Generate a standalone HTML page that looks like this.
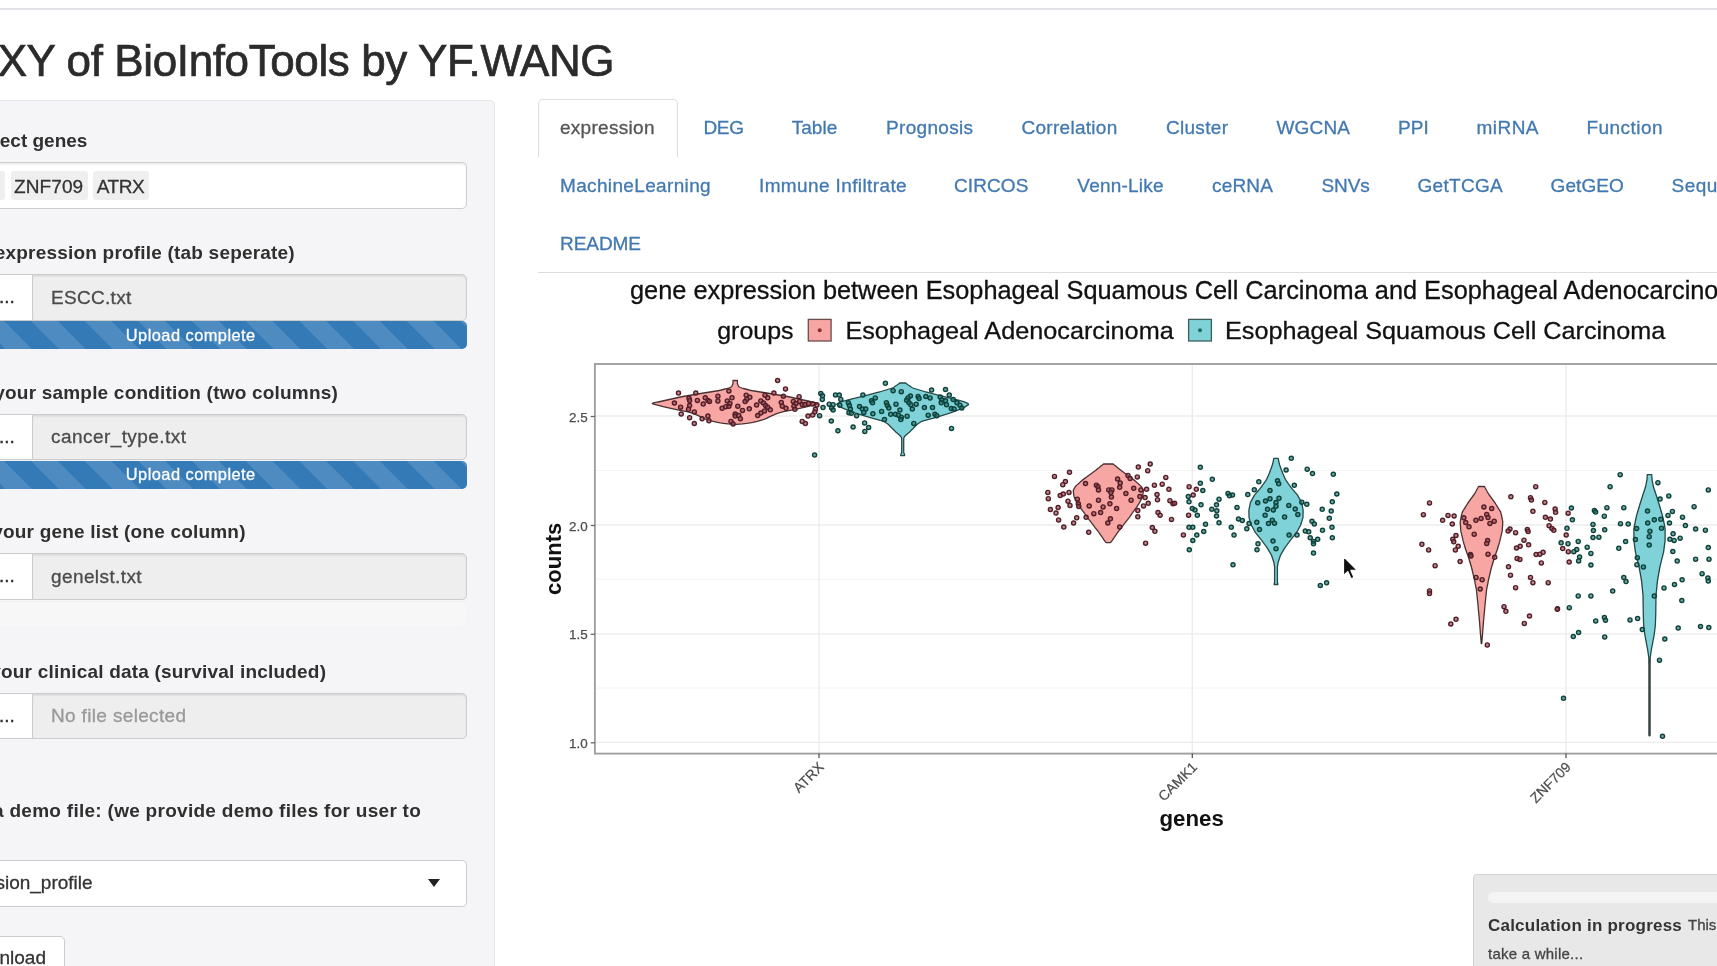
<!DOCTYPE html>
<html><head><meta charset="utf-8"><title>GALAXY of BioInfoTools</title>
<style>
html,body{margin:0;padding:0;background:#fff;}
body{width:1717px;height:966px;overflow:hidden;position:relative;font-family:"Liberation Sans",sans-serif;}
.t{position:absolute;white-space:nowrap;display:block;margin:0;padding:0;font-weight:normal;text-decoration:none;}
.b{position:absolute;}
svg text{font-family:"Liberation Sans",sans-serif;}
#fx{position:absolute;left:-20px;top:-20px;width:1757px;height:1006px;overflow:hidden;filter:blur(0.45px);background:#fff;}
#pg{position:absolute;left:20px;top:20px;width:1717px;height:966px;}
</style></head><body><div id="fx"><div id="pg">
<div class="b" style="left:0.00px;top:7.60px;width:1717.00px;height:2.20px;background:#e3e3e7;"></div>
<h2 class="t" style="right:1102.89px;top:38.80px;font-size:44px;line-height:44px;color:#2b2b2b;letter-spacing:0.000px;-webkit-text-stroke:0.7px #2b2b2b;letter-spacing:-0.386px;">GALAXY of BioInfoTools by YF.WANG</h2>
<div class="b" style="left:-120.00px;top:99.50px;width:614.50px;height:1000.50px;background:#f5f5f7;border:1.4px solid #e3e3e5;border-radius:5px;box-sizing:border-box;"></div>
<label class="t" style="right:1629.60px;top:131.40px;font-size:19px;line-height:19px;font-weight:bold;color:#2f2f2f;letter-spacing:0.000px;">Select genes</label>
<div class="b" style="left:-85.00px;top:162.00px;width:551.80px;height:47.40px;background:#fff;border:1.4px solid #ccc;border-radius:5px;box-sizing:border-box;box-shadow:inset 0 1.4px 1.6px rgba(0,0,0,.08);"></div>
<div class="b" style="left:-75.00px;top:170.70px;width:80.20px;height:29.70px;background:#efefef;border-radius:3px;"></div>
<span class="t" style="right:1716.50px;top:176.50px;font-size:19px;line-height:19px;-webkit-text-stroke:0.3px currentColor;color:#333;letter-spacing:0.000px;">CAMK1</span>
<div class="b" style="left:10.50px;top:170.70px;width:77.50px;height:29.70px;background:#efefef;border-radius:3px;"></div>
<span class="t" style="left:14.00px;top:176.50px;font-size:19px;line-height:19px;-webkit-text-stroke:0.3px currentColor;color:#333;letter-spacing:0.111px;">ZNF709</span>
<div class="b" style="left:93.20px;top:170.70px;width:55.90px;height:29.70px;background:#efefef;border-radius:3px;"></div>
<span class="t" style="left:96.70px;top:176.50px;font-size:19px;line-height:19px;-webkit-text-stroke:0.3px currentColor;color:#333;letter-spacing:-0.391px;">ATRX</span>
<label class="t" style="right:1422.10px;top:243.10px;font-size:19px;line-height:19px;font-weight:bold;color:#2f2f2f;letter-spacing:0.000px;letter-spacing:0.2px;">Upload expression profile (tab seperate)</label>
<div class="b" style="left:-85.00px;top:274.00px;width:118.50px;height:46.60px;background:#fff;border:1.4px solid #ccc;border-radius:5px 0 0 5px;box-sizing:border-box;"></div>
<span class="t" style="right:1702.20px;top:287.20px;font-size:19px;line-height:19px;color:#333;letter-spacing:0.000px;-webkit-text-stroke:0.4px #333;">Browse...</span>
<div class="b" style="left:32.20px;top:274.00px;width:434.60px;height:46.60px;background:#eeeeef;border:1.4px solid #ccc;border-radius:0 5px 5px 0;box-sizing:border-box;box-shadow:inset 0 1.4px 1.6px rgba(0,0,0,.09);"></div>
<span class="t" style="left:51.00px;top:287.60px;font-size:19px;line-height:19px;-webkit-text-stroke:0.3px currentColor;color:#4b4b4b;letter-spacing:0.309px;">ESCC.txt</span>
<div class="b" style="left:-85.00px;top:321.00px;width:551.80px;height:27.80px;border-radius:5px;overflow:hidden;background-color:#337ab7;background-image:linear-gradient(45deg,rgba(255,255,255,.125) 25%,transparent 25%,transparent 50%,rgba(255,255,255,.125) 50%,rgba(255,255,255,.125) 75%,transparent 75%,transparent);background-size:53.7px 53.7px;background-position:9px 0;"></div>
<span class="t" style="left:125.80px;top:326.60px;font-size:16.4px;line-height:16.4px;-webkit-text-stroke:0.3px currentColor;color:#fff;letter-spacing:0.455px;">Upload complete</span>
<label class="t" style="right:1379.00px;top:382.90px;font-size:19px;line-height:19px;font-weight:bold;color:#2f2f2f;letter-spacing:0.000px;letter-spacing:0.2px;">Upload your sample condition (two columns)</label>
<div class="b" style="left:-85.00px;top:413.80px;width:118.50px;height:46.60px;background:#fff;border:1.4px solid #ccc;border-radius:5px 0 0 5px;box-sizing:border-box;"></div>
<span class="t" style="right:1702.20px;top:427.00px;font-size:19px;line-height:19px;color:#333;letter-spacing:0.000px;-webkit-text-stroke:0.4px #333;">Browse...</span>
<div class="b" style="left:32.20px;top:413.80px;width:434.60px;height:46.60px;background:#eeeeef;border:1.4px solid #ccc;border-radius:0 5px 5px 0;box-sizing:border-box;box-shadow:inset 0 1.4px 1.6px rgba(0,0,0,.09);"></div>
<span class="t" style="left:51.00px;top:427.40px;font-size:19px;line-height:19px;-webkit-text-stroke:0.3px currentColor;color:#4b4b4b;letter-spacing:0.437px;">cancer_type.txt</span>
<div class="b" style="left:-85.00px;top:460.80px;width:551.80px;height:27.80px;border-radius:5px;overflow:hidden;background-color:#337ab7;background-image:linear-gradient(45deg,rgba(255,255,255,.125) 25%,transparent 25%,transparent 50%,rgba(255,255,255,.125) 50%,rgba(255,255,255,.125) 75%,transparent 75%,transparent);background-size:53.7px 53.7px;background-position:9px 0;"></div>
<span class="t" style="left:125.80px;top:466.40px;font-size:16.4px;line-height:16.4px;-webkit-text-stroke:0.3px currentColor;color:#fff;letter-spacing:0.455px;">Upload complete</span>
<label class="t" style="right:1471.30px;top:522.30px;font-size:19px;line-height:19px;font-weight:bold;color:#2f2f2f;letter-spacing:0.000px;letter-spacing:0.2px;">Upload your gene list (one column)</label>
<div class="b" style="left:-85.00px;top:553.20px;width:118.50px;height:46.60px;background:#fff;border:1.4px solid #ccc;border-radius:5px 0 0 5px;box-sizing:border-box;"></div>
<span class="t" style="right:1702.20px;top:566.40px;font-size:19px;line-height:19px;color:#333;letter-spacing:0.000px;-webkit-text-stroke:0.4px #333;">Browse...</span>
<div class="b" style="left:32.20px;top:553.20px;width:434.60px;height:46.60px;background:#eeeeef;border:1.4px solid #ccc;border-radius:0 5px 5px 0;box-sizing:border-box;box-shadow:inset 0 1.4px 1.6px rgba(0,0,0,.09);"></div>
<span class="t" style="left:51.00px;top:566.80px;font-size:19px;line-height:19px;-webkit-text-stroke:0.3px currentColor;color:#4b4b4b;letter-spacing:0.400px;">genelst.txt</span>
<div class="b" style="left:-85.00px;top:600.70px;width:551.80px;height:25.50px;background:#f7f7f8;border-radius:5px;box-shadow:inset 0 1px 2px rgba(0,0,0,.04);"></div>
<label class="t" style="right:1390.80px;top:661.90px;font-size:19px;line-height:19px;font-weight:bold;color:#2f2f2f;letter-spacing:0.000px;letter-spacing:0.2px;">Upload your clinical data (survival included)</label>
<div class="b" style="left:-85.00px;top:692.80px;width:118.50px;height:46.60px;background:#fff;border:1.4px solid #ccc;border-radius:5px 0 0 5px;box-sizing:border-box;"></div>
<span class="t" style="right:1702.20px;top:706.00px;font-size:19px;line-height:19px;color:#333;letter-spacing:0.000px;-webkit-text-stroke:0.4px #333;">Browse...</span>
<div class="b" style="left:32.20px;top:692.80px;width:434.60px;height:46.60px;background:#eeeeef;border:1.4px solid #ccc;border-radius:0 5px 5px 0;box-sizing:border-box;box-shadow:inset 0 1.4px 1.6px rgba(0,0,0,.09);"></div>
<span class="t" style="left:51.00px;top:706.40px;font-size:19px;line-height:19px;-webkit-text-stroke:0.3px currentColor;color:#999;letter-spacing:0.344px;">No file selected</span>
<span class="t" style="right:1295.90px;top:800.80px;font-size:19px;line-height:19px;font-weight:bold;color:#2f2f2f;letter-spacing:0.000px;letter-spacing:0.28px;">Choose a demo file: (we provide demo files for user to</span>
<span class="t" style="right:1762.00px;top:827.80px;font-size:19px;line-height:19px;font-weight:bold;color:#2f2f2f;letter-spacing:0.000px;">test)</span>
<div class="b" style="left:-85.00px;top:859.90px;width:551.80px;height:46.70px;background:#fff;border:1.4px solid #ccc;border-radius:5px;box-sizing:border-box;"></div>
<span class="t" style="right:1624.40px;top:873.40px;font-size:19px;line-height:19px;-webkit-text-stroke:0.3px currentColor;color:#333;letter-spacing:0.000px;">expression_profile</span>
<div class="b" style="left:427.5px;top:878.8px;width:0;height:0;border-left:6.9px solid transparent;border-right:6.9px solid transparent;border-top:8px solid #222;"></div>
<div class="b" style="left:-85.00px;top:936.20px;width:149.80px;height:53.80px;background:#fff;border:1.4px solid #ccc;border-radius:5px;box-sizing:border-box;"></div>
<span class="t" style="right:1671.00px;top:947.80px;font-size:19px;line-height:19px;-webkit-text-stroke:0.3px currentColor;color:#333;letter-spacing:0.000px;">Download</span>
<div class="b" style="left:538.00px;top:271.60px;width:1184.00px;height:1.40px;background:#ddd;"></div>
<div class="b" style="left:537.60px;top:99.30px;width:140.20px;height:57.50px;background:#fff;border:1.4px solid #ddd;border-bottom:none;border-radius:5px 5px 0 0;box-sizing:border-box;"></div>
<a class="t" style="left:559.90px;top:118.30px;font-size:19px;line-height:19px;-webkit-text-stroke:0.3px currentColor;color:#555;letter-spacing:0.301px;">expression</a>
<a class="t" style="left:703.50px;top:118.30px;font-size:19px;line-height:19px;-webkit-text-stroke:0.3px currentColor;color:#4279b1;letter-spacing:-0.358px;">DEG</a>
<a class="t" style="left:791.70px;top:118.30px;font-size:19px;line-height:19px;-webkit-text-stroke:0.3px currentColor;color:#4279b1;letter-spacing:0.055px;">Table</a>
<a class="t" style="left:886.00px;top:118.30px;font-size:19px;line-height:19px;-webkit-text-stroke:0.3px currentColor;color:#4279b1;letter-spacing:0.323px;">Prognosis</a>
<a class="t" style="left:1021.40px;top:118.30px;font-size:19px;line-height:19px;-webkit-text-stroke:0.3px currentColor;color:#4279b1;letter-spacing:0.297px;">Correlation</a>
<a class="t" style="left:1165.90px;top:118.30px;font-size:19px;line-height:19px;-webkit-text-stroke:0.3px currentColor;color:#4279b1;letter-spacing:0.317px;">Cluster</a>
<a class="t" style="left:1276.50px;top:118.30px;font-size:19px;line-height:19px;-webkit-text-stroke:0.3px currentColor;color:#4279b1;letter-spacing:0.154px;">WGCNA</a>
<a class="t" style="left:1398.00px;top:118.30px;font-size:19px;line-height:19px;-webkit-text-stroke:0.3px currentColor;color:#4279b1;letter-spacing:0.125px;">PPI</a>
<a class="t" style="left:1476.50px;top:118.30px;font-size:19px;line-height:19px;-webkit-text-stroke:0.3px currentColor;color:#4279b1;letter-spacing:0.467px;">miRNA</a>
<a class="t" style="left:1586.50px;top:118.30px;font-size:19px;line-height:19px;-webkit-text-stroke:0.3px currentColor;color:#4279b1;letter-spacing:0.453px;">Function</a>
<a class="t" style="left:560.00px;top:176.00px;font-size:19px;line-height:19px;-webkit-text-stroke:0.3px currentColor;color:#4279b1;letter-spacing:0.349px;">MachineLearning</a>
<a class="t" style="left:759.00px;top:176.00px;font-size:19px;line-height:19px;-webkit-text-stroke:0.3px currentColor;color:#4279b1;letter-spacing:0.382px;">Immune Infiltrate</a>
<a class="t" style="left:954.00px;top:176.00px;font-size:19px;line-height:19px;-webkit-text-stroke:0.3px currentColor;color:#4279b1;letter-spacing:0.084px;">CIRCOS</a>
<a class="t" style="left:1077.30px;top:176.00px;font-size:19px;line-height:19px;-webkit-text-stroke:0.3px currentColor;color:#4279b1;letter-spacing:0.221px;">Venn-Like</a>
<a class="t" style="left:1212.00px;top:176.00px;font-size:19px;line-height:19px;-webkit-text-stroke:0.3px currentColor;color:#4279b1;letter-spacing:0.163px;">ceRNA</a>
<a class="t" style="left:1321.50px;top:176.00px;font-size:19px;line-height:19px;-webkit-text-stroke:0.3px currentColor;color:#4279b1;letter-spacing:-0.092px;">SNVs</a>
<a class="t" style="left:1417.50px;top:176.00px;font-size:19px;line-height:19px;-webkit-text-stroke:0.3px currentColor;color:#4279b1;letter-spacing:0.299px;">GetTCGA</a>
<a class="t" style="left:1550.50px;top:176.00px;font-size:19px;line-height:19px;-webkit-text-stroke:0.3px currentColor;color:#4279b1;letter-spacing:0.108px;">GetGEO</a>
<a class="t" style="left:560.00px;top:233.70px;font-size:19px;line-height:19px;-webkit-text-stroke:0.3px currentColor;color:#4279b1;letter-spacing:-0.049px;">README</a>
<a class="t" style="left:1671.50px;top:176.00px;font-size:19px;line-height:19px;color:#4279b1;letter-spacing:0.000px;letter-spacing:0.5px;-webkit-text-stroke:0.3px currentColor;">Sequence</a>
<div class="b" style="left:1472.60px;top:873.80px;width:254.40px;height:126.20px;background:#e8e8e8;border:1.4px solid #d2d2d2;border-radius:4px;box-sizing:border-box;"></div>
<div class="b" style="left:1488.00px;top:891.80px;width:239.00px;height:11.50px;background:#f4f4f4;border-radius:5px;"></div>
<span class="t" style="left:1488.00px;top:917.30px;font-size:17px;line-height:17px;font-weight:bold;color:#333;letter-spacing:0.221px;">Calculation in progress</span>
<span class="t" style="left:1688.00px;top:917.40px;font-size:15px;line-height:15px;-webkit-text-stroke:0.3px currentColor;color:#444;letter-spacing:0.000px;">This may</span>
<span class="t" style="left:1488.00px;top:946.00px;font-size:15px;line-height:15px;-webkit-text-stroke:0.3px currentColor;color:#444;letter-spacing:0.239px;">take a while...</span>
<svg style="position:absolute;left:0;top:0;overflow:visible" width="1717" height="966" viewBox="0 0 1717 966">
<line x1="594.9" x2="1717" y1="416" y2="416" stroke="#ececec" stroke-width="1.3"/>
<line x1="594.9" x2="1717" y1="525" y2="525" stroke="#ececec" stroke-width="1.3"/>
<line x1="594.9" x2="1717" y1="633.8" y2="633.8" stroke="#ececec" stroke-width="1.3"/>
<line x1="594.9" x2="1717" y1="742.3" y2="742.3" stroke="#ececec" stroke-width="1.3"/>
<line x1="594.9" x2="1717" y1="470.5" y2="470.5" stroke="#f3f3f3" stroke-width="0.9"/>
<line x1="594.9" x2="1717" y1="579.4" y2="579.4" stroke="#f3f3f3" stroke-width="0.9"/>
<line x1="594.9" x2="1717" y1="688" y2="688" stroke="#f3f3f3" stroke-width="0.9"/>
<line x1="819" x2="819" y1="364" y2="753.6" stroke="#ebebeb" stroke-width="1.3"/>
<line x1="1192.3" x2="1192.3" y1="364" y2="753.6" stroke="#ebebeb" stroke-width="1.3"/>
<line x1="1566" x2="1566" y1="364" y2="753.6" stroke="#ebebeb" stroke-width="1.3"/>
<path d="M733.0,380.5 L733.0,381.0 L733.0,381.5 L733.0,382.0 L733.0,382.5 L733.0,383.0 L733.0,383.5 L732.8,384.0 L732.6,384.5 L732.4,385.0 L732.2,385.5 L732.0,386.0 L731.7,386.5 L731.1,387.0 L730.0,387.5 L728.5,388.0 L726.8,388.5 L725.0,389.0 L723.2,389.5 L721.3,390.0 L719.1,390.5 L716.2,391.0 L713.1,391.5 L710.1,392.0 L707.0,392.5 L703.9,393.0 L700.8,393.5 L697.8,394.0 L694.8,394.5 L691.9,395.0 L688.9,395.5 L686.0,396.0 L683.1,396.5 L680.5,397.0 L678.2,397.5 L676.0,398.0 L673.8,398.5 L671.5,399.0 L669.3,399.5 L667.1,400.0 L664.9,400.5 L662.6,401.0 L660.4,401.5 L658.1,402.0 L655.9,402.4 L653.7,402.9 L652.4,403.4 L653.0,403.9 L654.7,404.4 L656.6,404.9 L658.4,405.4 L660.3,405.9 L662.2,406.4 L664.2,406.9 L666.4,407.4 L668.6,407.9 L670.8,408.4 L673.1,408.9 L675.3,409.4 L677.7,409.9 L680.3,410.4 L682.9,410.9 L685.6,411.4 L687.9,411.9 L689.7,412.4 L691.3,412.9 L692.8,413.4 L694.3,413.9 L695.5,414.4 L696.6,414.9 L697.7,415.4 L698.8,415.9 L699.9,416.4 L701.0,416.9 L702.0,417.4 L703.0,417.9 L704.0,418.4 L705.1,418.9 L706.3,419.4 L707.9,419.9 L709.7,420.4 L711.4,420.9 L713.3,421.4 L715.4,421.9 L717.6,422.4 L720.2,422.9 L723.7,423.4 L727.9,423.9 L734.4,424.4 L736.0,424.4 L742.5,423.9 L746.7,423.4 L750.2,422.9 L752.8,422.4 L755.0,421.9 L757.1,421.4 L759.0,420.9 L760.7,420.4 L762.5,419.9 L764.1,419.4 L765.3,418.9 L766.4,418.4 L767.4,417.9 L768.4,417.4 L769.4,416.9 L770.5,416.4 L771.6,415.9 L772.7,415.4 L773.8,414.9 L774.9,414.4 L776.1,413.9 L777.6,413.4 L779.1,412.9 L780.7,412.4 L782.5,411.9 L784.8,411.4 L787.5,410.9 L790.1,410.4 L792.7,409.9 L795.1,409.4 L797.3,408.9 L799.6,408.4 L801.8,407.9 L804.0,407.4 L806.2,406.9 L808.2,406.4 L810.1,405.9 L812.0,405.4 L813.8,404.9 L815.7,404.4 L817.4,403.9 L818.0,403.4 L816.7,402.9 L814.5,402.4 L812.3,402.0 L810.0,401.5 L807.8,401.0 L805.5,400.5 L803.3,400.0 L801.1,399.5 L798.9,399.0 L796.6,398.5 L794.4,398.0 L792.2,397.5 L789.9,397.0 L787.3,396.5 L784.4,396.0 L781.5,395.5 L778.5,395.0 L775.6,394.5 L772.6,394.0 L769.6,393.5 L766.5,393.0 L763.4,392.5 L760.3,392.0 L757.3,391.5 L754.2,391.0 L751.3,390.5 L749.1,390.0 L747.2,389.5 L745.4,389.0 L743.6,388.5 L741.9,388.0 L740.4,387.5 L739.3,387.0 L738.7,386.5 L738.4,386.0 L738.2,385.5 L738.0,385.0 L737.8,384.5 L737.6,384.0 L737.4,383.5 L737.4,383.0 L737.4,382.5 L737.4,382.0 L737.4,381.5 L737.4,381.0 L737.4,380.5Z" fill="#f7a6a3" stroke="#4a3232" stroke-width="1.3" stroke-linejoin="round"/>
<path d="M899.7,383.0 L899.2,383.5 L898.5,384.0 L897.8,384.5 L897.1,385.0 L896.3,385.5 L895.6,386.0 L894.9,386.5 L894.2,387.0 L893.4,387.5 L892.4,388.0 L890.9,388.5 L889.3,389.0 L887.6,389.5 L886.0,390.0 L884.3,390.5 L882.7,391.0 L881.1,391.5 L879.4,392.0 L877.6,392.4 L875.8,392.9 L873.9,393.4 L872.1,393.9 L870.2,394.4 L868.3,394.9 L866.3,395.4 L864.3,395.9 L862.4,396.4 L860.4,396.9 L858.3,397.4 L856.3,397.9 L854.2,398.4 L852.1,398.9 L850.1,399.4 L848.2,399.9 L846.3,400.4 L844.5,400.9 L842.6,401.4 L841.1,401.9 L839.9,402.4 L838.9,402.9 L837.9,403.4 L837.0,403.9 L836.8,404.4 L837.2,404.9 L838.0,405.4 L838.8,405.9 L839.6,406.4 L840.4,406.9 L841.4,407.4 L842.4,407.9 L843.4,408.4 L844.5,408.9 L845.8,409.4 L847.0,409.9 L848.3,410.3 L849.6,410.8 L851.0,411.3 L852.3,411.8 L853.7,412.3 L855.0,412.8 L856.5,413.3 L858.0,413.8 L859.7,414.3 L861.3,414.8 L862.9,415.3 L864.5,415.8 L866.2,416.3 L867.8,416.8 L869.4,417.3 L871.1,417.8 L872.8,418.3 L874.7,418.8 L876.6,419.3 L878.4,419.8 L880.3,420.3 L882.1,420.8 L883.4,421.3 L884.3,421.8 L885.1,422.3 L885.9,422.8 L886.7,423.3 L887.4,423.8 L888.1,424.3 L888.6,424.8 L889.1,425.3 L889.6,425.8 L890.1,426.3 L890.6,426.8 L891.1,427.3 L891.6,427.8 L892.1,428.3 L892.6,428.7 L893.1,429.2 L893.6,429.7 L894.1,430.2 L894.6,430.7 L895.0,431.2 L895.6,431.7 L896.1,432.2 L896.7,432.7 L897.3,433.2 L897.9,433.7 L898.4,434.2 L899.0,434.7 L899.6,435.2 L900.1,435.7 L900.5,436.2 L900.8,436.7 L901.1,437.2 L901.4,437.7 L901.6,438.2 L901.7,438.7 L901.7,439.2 L901.7,439.7 L901.7,440.2 L901.7,440.7 L901.7,441.2 L901.7,441.7 L901.7,442.2 L901.7,442.7 L901.7,443.2 L901.7,443.7 L901.7,444.2 L901.7,444.7 L901.7,445.2 L901.7,445.7 L901.7,446.2 L901.7,446.6 L901.7,447.1 L901.7,447.6 L901.7,448.1 L901.7,448.6 L901.7,449.1 L901.7,449.6 L901.7,450.1 L901.7,450.6 L901.7,451.1 L901.7,451.6 L901.7,452.1 L901.6,452.6 L901.5,453.1 L901.2,453.6 L901.0,454.1 L900.9,454.6 L900.8,455.1 L900.7,455.6 L904.7,455.6 L904.6,455.1 L904.5,454.6 L904.4,454.1 L904.2,453.6 L903.9,453.1 L903.8,452.6 L903.7,452.1 L903.7,451.6 L903.7,451.1 L903.7,450.6 L903.7,450.1 L903.7,449.6 L903.7,449.1 L903.7,448.6 L903.7,448.1 L903.7,447.6 L903.7,447.1 L903.7,446.6 L903.7,446.2 L903.7,445.7 L903.7,445.2 L903.7,444.7 L903.7,444.2 L903.7,443.7 L903.7,443.2 L903.7,442.7 L903.7,442.2 L903.7,441.7 L903.7,441.2 L903.7,440.7 L903.7,440.2 L903.7,439.7 L903.7,439.2 L903.7,438.7 L903.8,438.2 L904.0,437.7 L904.3,437.2 L904.6,436.7 L904.9,436.2 L905.3,435.7 L905.8,435.2 L906.4,434.7 L907.0,434.2 L907.5,433.7 L908.1,433.2 L908.7,432.7 L909.3,432.2 L909.8,431.7 L910.4,431.2 L910.8,430.7 L911.3,430.2 L911.8,429.7 L912.3,429.2 L912.8,428.7 L913.3,428.3 L913.8,427.8 L914.3,427.3 L914.8,426.8 L915.3,426.3 L915.8,425.8 L916.3,425.3 L916.8,424.8 L917.3,424.3 L918.0,423.8 L918.7,423.3 L919.5,422.8 L920.3,422.3 L921.1,421.8 L922.0,421.3 L923.3,420.8 L925.1,420.3 L927.0,419.8 L928.8,419.3 L930.7,418.8 L932.6,418.3 L934.3,417.8 L936.0,417.3 L937.6,416.8 L939.2,416.3 L940.9,415.8 L942.5,415.3 L944.1,414.8 L945.7,414.3 L947.4,413.8 L948.9,413.3 L950.4,412.8 L951.7,412.3 L953.1,411.8 L954.4,411.3 L955.8,410.8 L957.1,410.3 L958.4,409.9 L959.6,409.4 L960.9,408.9 L962.0,408.4 L963.0,407.9 L964.0,407.4 L965.0,406.9 L965.8,406.4 L966.6,405.9 L967.4,405.4 L968.2,404.9 L968.6,404.4 L968.4,403.9 L967.5,403.4 L966.5,402.9 L965.5,402.4 L964.3,401.9 L962.8,401.4 L960.9,400.9 L959.1,400.4 L957.2,399.9 L955.3,399.4 L953.3,398.9 L951.2,398.4 L949.1,397.9 L947.1,397.4 L945.0,396.9 L943.0,396.4 L941.1,395.9 L939.1,395.4 L937.1,394.9 L935.2,394.4 L933.3,393.9 L931.5,393.4 L929.6,392.9 L927.8,392.4 L926.0,392.0 L924.3,391.5 L922.7,391.0 L921.1,390.5 L919.4,390.0 L917.8,389.5 L916.1,389.0 L914.5,388.5 L913.0,388.0 L912.0,387.5 L911.2,387.0 L910.5,386.5 L909.8,386.0 L909.1,385.5 L908.3,385.0 L907.6,384.5 L906.9,384.0 L906.2,383.5 L905.7,383.0Z" fill="#7fd3d8" stroke="#274848" stroke-width="1.3" stroke-linejoin="round"/>
<path d="M1103.5,464.0 L1102.9,464.5 L1102.3,465.0 L1101.6,465.5 L1101.0,466.0 L1100.4,466.5 L1099.8,467.0 L1099.2,467.5 L1098.6,468.0 L1097.9,468.5 L1097.3,469.0 L1096.7,469.5 L1096.1,470.0 L1095.5,470.5 L1094.8,471.0 L1094.1,471.5 L1093.4,472.0 L1092.8,472.5 L1092.1,473.0 L1091.4,473.5 L1090.7,474.0 L1090.0,474.5 L1089.3,475.0 L1088.6,475.5 L1087.9,476.0 L1087.3,476.5 L1086.6,477.0 L1086.0,477.4 L1085.3,477.9 L1084.7,478.4 L1084.0,478.9 L1083.3,479.4 L1082.7,479.9 L1082.0,480.4 L1081.4,480.9 L1080.8,481.4 L1080.3,481.9 L1079.7,482.4 L1079.2,482.9 L1078.6,483.4 L1078.1,483.9 L1077.5,484.4 L1077.0,484.9 L1076.5,485.4 L1075.9,485.9 L1075.5,486.4 L1075.2,486.9 L1074.9,487.4 L1074.6,487.9 L1074.3,488.4 L1074.1,488.9 L1073.8,489.4 L1073.5,489.9 L1073.3,490.4 L1073.3,490.9 L1073.3,491.4 L1073.4,491.9 L1073.5,492.4 L1073.5,492.9 L1073.6,493.4 L1073.6,493.9 L1073.7,494.4 L1073.8,494.9 L1073.8,495.4 L1073.9,495.9 L1074.0,496.4 L1074.2,496.9 L1074.4,497.4 L1074.7,497.9 L1074.9,498.4 L1075.2,498.9 L1075.4,499.4 L1075.7,499.9 L1076.0,500.4 L1076.2,500.9 L1076.5,501.4 L1076.7,501.9 L1077.0,502.4 L1077.3,502.9 L1077.6,503.4 L1077.9,503.8 L1078.2,504.3 L1078.5,504.8 L1078.8,505.3 L1079.1,505.8 L1079.4,506.3 L1079.7,506.8 L1080.0,507.3 L1080.4,507.8 L1080.8,508.3 L1081.2,508.8 L1081.6,509.3 L1082.0,509.8 L1082.3,510.3 L1082.7,510.8 L1083.1,511.3 L1083.5,511.8 L1083.8,512.3 L1084.2,512.8 L1084.5,513.3 L1084.9,513.8 L1085.2,514.3 L1085.5,514.8 L1085.9,515.3 L1086.2,515.8 L1086.5,516.3 L1086.9,516.8 L1087.2,517.3 L1087.6,517.8 L1088.0,518.3 L1088.4,518.8 L1088.8,519.3 L1089.2,519.8 L1089.6,520.3 L1090.0,520.8 L1090.4,521.3 L1090.8,521.8 L1091.2,522.3 L1091.6,522.8 L1092.0,523.3 L1092.3,523.8 L1092.7,524.3 L1093.1,524.8 L1093.5,525.3 L1093.8,525.8 L1094.2,526.3 L1094.6,526.8 L1094.9,527.3 L1095.3,527.8 L1095.7,528.3 L1096.1,528.8 L1096.4,529.3 L1096.8,529.7 L1097.2,530.2 L1097.6,530.7 L1097.9,531.2 L1098.3,531.7 L1098.7,532.2 L1099.0,532.7 L1099.4,533.2 L1099.7,533.7 L1100.1,534.2 L1100.4,534.7 L1100.8,535.2 L1101.1,535.7 L1101.5,536.2 L1101.8,536.7 L1102.2,537.2 L1102.5,537.7 L1102.8,538.2 L1103.2,538.7 L1103.5,539.2 L1103.8,539.7 L1104.2,540.2 L1104.5,540.7 L1104.9,541.2 L1105.3,541.7 L1105.9,542.2 L1106.5,542.7 L1110.1,542.7 L1110.7,542.2 L1111.3,541.7 L1111.7,541.2 L1112.1,540.7 L1112.4,540.2 L1112.8,539.7 L1113.1,539.2 L1113.4,538.7 L1113.8,538.2 L1114.1,537.7 L1114.4,537.2 L1114.8,536.7 L1115.1,536.2 L1115.5,535.7 L1115.8,535.2 L1116.2,534.7 L1116.5,534.2 L1116.9,533.7 L1117.2,533.2 L1117.6,532.7 L1117.9,532.2 L1118.3,531.7 L1118.7,531.2 L1119.0,530.7 L1119.4,530.2 L1119.8,529.7 L1120.2,529.3 L1120.5,528.8 L1120.9,528.3 L1121.3,527.8 L1121.7,527.3 L1122.0,526.8 L1122.4,526.3 L1122.8,525.8 L1123.1,525.3 L1123.5,524.8 L1123.9,524.3 L1124.3,523.8 L1124.6,523.3 L1125.0,522.8 L1125.4,522.3 L1125.8,521.8 L1126.2,521.3 L1126.6,520.8 L1127.0,520.3 L1127.4,519.8 L1127.8,519.3 L1128.2,518.8 L1128.6,518.3 L1129.0,517.8 L1129.4,517.3 L1129.7,516.8 L1130.1,516.3 L1130.4,515.8 L1130.7,515.3 L1131.1,514.8 L1131.4,514.3 L1131.7,513.8 L1132.1,513.3 L1132.4,512.8 L1132.8,512.3 L1133.1,511.8 L1133.5,511.3 L1133.9,510.8 L1134.3,510.3 L1134.6,509.8 L1135.0,509.3 L1135.4,508.8 L1135.8,508.3 L1136.2,507.8 L1136.6,507.3 L1136.9,506.8 L1137.2,506.3 L1137.5,505.8 L1137.8,505.3 L1138.1,504.8 L1138.4,504.3 L1138.7,503.8 L1139.0,503.4 L1139.3,502.9 L1139.6,502.4 L1139.9,501.9 L1140.1,501.4 L1140.4,500.9 L1140.6,500.4 L1140.9,499.9 L1141.2,499.4 L1141.4,498.9 L1141.7,498.4 L1141.9,497.9 L1142.2,497.4 L1142.4,496.9 L1142.6,496.4 L1142.7,495.9 L1142.8,495.4 L1142.8,494.9 L1142.9,494.4 L1143.0,493.9 L1143.0,493.4 L1143.1,492.9 L1143.1,492.4 L1143.2,491.9 L1143.3,491.4 L1143.3,490.9 L1143.3,490.4 L1143.1,489.9 L1142.8,489.4 L1142.5,488.9 L1142.3,488.4 L1142.0,487.9 L1141.7,487.4 L1141.4,486.9 L1141.1,486.4 L1140.7,485.9 L1140.1,485.4 L1139.6,484.9 L1139.1,484.4 L1138.5,483.9 L1138.0,483.4 L1137.4,482.9 L1136.9,482.4 L1136.3,481.9 L1135.8,481.4 L1135.2,480.9 L1134.6,480.4 L1133.9,479.9 L1133.3,479.4 L1132.6,478.9 L1131.9,478.4 L1131.3,477.9 L1130.6,477.4 L1130.0,477.0 L1129.3,476.5 L1128.7,476.0 L1128.0,475.5 L1127.3,475.0 L1126.6,474.5 L1125.9,474.0 L1125.2,473.5 L1124.5,473.0 L1123.8,472.5 L1123.2,472.0 L1122.5,471.5 L1121.8,471.0 L1121.1,470.5 L1120.5,470.0 L1119.9,469.5 L1119.3,469.0 L1118.7,468.5 L1118.0,468.0 L1117.4,467.5 L1116.8,467.0 L1116.2,466.5 L1115.6,466.0 L1115.0,465.5 L1114.3,465.0 L1113.7,464.5 L1113.1,464.0Z" fill="#f7a6a3" stroke="#4a3232" stroke-width="1.3" stroke-linejoin="round"/>
<path d="M1273.8,458.3 L1273.7,458.8 L1273.6,459.3 L1273.5,459.8 L1273.4,460.3 L1273.3,460.8 L1273.2,461.3 L1273.1,461.8 L1273.0,462.3 L1272.9,462.8 L1272.8,463.3 L1272.7,463.8 L1272.5,464.3 L1272.4,464.8 L1272.3,465.3 L1272.1,465.8 L1271.9,466.3 L1271.7,466.8 L1271.5,467.3 L1271.4,467.8 L1271.2,468.3 L1271.0,468.8 L1270.8,469.3 L1270.6,469.8 L1270.4,470.3 L1270.2,470.8 L1270.1,471.3 L1269.9,471.8 L1269.7,472.3 L1269.5,472.8 L1269.3,473.3 L1269.0,473.8 L1268.8,474.3 L1268.6,474.8 L1268.4,475.3 L1268.2,475.8 L1267.9,476.3 L1267.7,476.8 L1267.5,477.3 L1267.3,477.8 L1267.1,478.3 L1266.8,478.8 L1266.6,479.3 L1266.4,479.7 L1266.1,480.2 L1265.8,480.7 L1265.4,481.2 L1265.1,481.7 L1264.7,482.2 L1264.4,482.7 L1264.0,483.2 L1263.7,483.7 L1263.3,484.2 L1263.0,484.7 L1262.6,485.2 L1262.2,485.7 L1261.9,486.2 L1261.5,486.7 L1261.2,487.2 L1260.8,487.7 L1260.4,488.2 L1260.0,488.7 L1259.5,489.2 L1259.1,489.7 L1258.7,490.2 L1258.2,490.7 L1257.8,491.2 L1257.4,491.7 L1257.0,492.2 L1256.5,492.7 L1256.1,493.2 L1255.7,493.7 L1255.3,494.2 L1254.9,494.7 L1254.5,495.2 L1254.2,495.7 L1253.9,496.2 L1253.6,496.7 L1253.4,497.2 L1253.1,497.7 L1252.8,498.2 L1252.5,498.7 L1252.2,499.2 L1252.0,499.7 L1251.7,500.2 L1251.4,500.7 L1251.1,501.2 L1250.8,501.7 L1250.6,502.2 L1250.4,502.7 L1250.3,503.2 L1250.2,503.7 L1250.1,504.2 L1250.0,504.7 L1249.9,505.2 L1249.8,505.7 L1249.7,506.2 L1249.6,506.7 L1249.5,507.2 L1249.4,507.7 L1249.3,508.2 L1249.2,508.7 L1249.1,509.2 L1249.0,509.7 L1248.9,510.2 L1248.9,510.7 L1248.9,511.2 L1248.9,511.7 L1248.9,512.2 L1248.9,512.7 L1248.9,513.2 L1248.9,513.7 L1249.0,514.2 L1249.0,514.7 L1249.0,515.2 L1249.0,515.7 L1249.0,516.2 L1249.0,516.7 L1249.0,517.2 L1249.1,517.7 L1249.2,518.2 L1249.4,518.7 L1249.5,519.2 L1249.7,519.7 L1249.8,520.2 L1250.0,520.7 L1250.1,521.2 L1250.3,521.6 L1250.4,522.1 L1250.6,522.6 L1250.7,523.1 L1250.9,523.6 L1251.0,524.1 L1251.2,524.6 L1251.4,525.1 L1251.6,525.6 L1251.9,526.1 L1252.2,526.6 L1252.5,527.1 L1252.7,527.6 L1253.0,528.1 L1253.3,528.6 L1253.6,529.1 L1253.8,529.6 L1254.1,530.1 L1254.4,530.6 L1254.6,531.1 L1254.9,531.6 L1255.2,532.1 L1255.5,532.6 L1255.9,533.1 L1256.3,533.6 L1256.7,534.1 L1257.1,534.6 L1257.5,535.1 L1257.9,535.6 L1258.3,536.1 L1258.7,536.6 L1259.1,537.1 L1259.5,537.6 L1259.9,538.1 L1260.3,538.6 L1260.7,539.1 L1261.1,539.6 L1261.5,540.1 L1261.9,540.6 L1262.2,541.1 L1262.6,541.6 L1263.0,542.1 L1263.3,542.6 L1263.7,543.1 L1264.1,543.6 L1264.5,544.1 L1264.8,544.6 L1265.2,545.1 L1265.6,545.6 L1265.9,546.1 L1266.3,546.6 L1266.7,547.1 L1267.0,547.6 L1267.3,548.1 L1267.6,548.6 L1267.9,549.1 L1268.2,549.6 L1268.5,550.1 L1268.8,550.6 L1269.1,551.1 L1269.4,551.6 L1269.7,552.1 L1270.0,552.6 L1270.3,553.1 L1270.6,553.6 L1270.9,554.1 L1271.1,554.6 L1271.4,555.1 L1271.6,555.6 L1271.8,556.1 L1271.9,556.6 L1272.1,557.1 L1272.3,557.6 L1272.4,558.1 L1272.6,558.6 L1272.8,559.1 L1272.9,559.6 L1273.1,560.1 L1273.3,560.6 L1273.4,561.1 L1273.6,561.6 L1273.7,562.1 L1273.9,562.6 L1274.0,563.1 L1274.1,563.5 L1274.1,564.0 L1274.2,564.5 L1274.3,565.0 L1274.4,565.5 L1274.5,566.0 L1274.5,566.5 L1274.6,567.0 L1274.6,567.5 L1274.6,568.0 L1274.6,568.5 L1274.6,569.0 L1274.6,569.5 L1274.6,570.0 L1274.6,570.5 L1274.6,571.0 L1274.6,571.5 L1274.6,572.0 L1274.6,572.5 L1274.6,573.0 L1274.6,573.5 L1274.6,574.0 L1274.6,574.5 L1274.6,575.0 L1274.6,575.5 L1274.6,576.0 L1274.6,576.5 L1274.6,577.0 L1274.6,577.5 L1274.6,578.0 L1274.6,578.5 L1274.6,579.0 L1274.6,579.5 L1274.6,580.0 L1274.6,580.5 L1274.6,581.0 L1274.6,581.5 L1274.6,582.0 L1274.5,582.5 L1274.4,583.0 L1274.3,583.5 L1274.2,584.0 L1274.1,584.5 L1277.9,584.5 L1277.8,584.0 L1277.7,583.5 L1277.6,583.0 L1277.5,582.5 L1277.4,582.0 L1277.4,581.5 L1277.4,581.0 L1277.4,580.5 L1277.4,580.0 L1277.4,579.5 L1277.4,579.0 L1277.4,578.5 L1277.4,578.0 L1277.4,577.5 L1277.4,577.0 L1277.4,576.5 L1277.4,576.0 L1277.4,575.5 L1277.4,575.0 L1277.4,574.5 L1277.4,574.0 L1277.4,573.5 L1277.4,573.0 L1277.4,572.5 L1277.4,572.0 L1277.4,571.5 L1277.4,571.0 L1277.4,570.5 L1277.4,570.0 L1277.4,569.5 L1277.4,569.0 L1277.4,568.5 L1277.4,568.0 L1277.4,567.5 L1277.4,567.0 L1277.5,566.5 L1277.5,566.0 L1277.6,565.5 L1277.7,565.0 L1277.8,564.5 L1277.9,564.0 L1277.9,563.5 L1278.0,563.1 L1278.1,562.6 L1278.3,562.1 L1278.4,561.6 L1278.6,561.1 L1278.7,560.6 L1278.9,560.1 L1279.1,559.6 L1279.2,559.1 L1279.4,558.6 L1279.6,558.1 L1279.7,557.6 L1279.9,557.1 L1280.1,556.6 L1280.2,556.1 L1280.4,555.6 L1280.6,555.1 L1280.9,554.6 L1281.1,554.1 L1281.4,553.6 L1281.7,553.1 L1282.0,552.6 L1282.3,552.1 L1282.6,551.6 L1282.9,551.1 L1283.2,550.6 L1283.5,550.1 L1283.8,549.6 L1284.1,549.1 L1284.4,548.6 L1284.7,548.1 L1285.0,547.6 L1285.3,547.1 L1285.7,546.6 L1286.1,546.1 L1286.4,545.6 L1286.8,545.1 L1287.2,544.6 L1287.5,544.1 L1287.9,543.6 L1288.3,543.1 L1288.7,542.6 L1289.0,542.1 L1289.4,541.6 L1289.8,541.1 L1290.1,540.6 L1290.5,540.1 L1290.9,539.6 L1291.3,539.1 L1291.7,538.6 L1292.1,538.1 L1292.5,537.6 L1292.9,537.1 L1293.3,536.6 L1293.7,536.1 L1294.1,535.6 L1294.5,535.1 L1294.9,534.6 L1295.3,534.1 L1295.7,533.6 L1296.1,533.1 L1296.5,532.6 L1296.8,532.1 L1297.1,531.6 L1297.4,531.1 L1297.6,530.6 L1297.9,530.1 L1298.2,529.6 L1298.4,529.1 L1298.7,528.6 L1299.0,528.1 L1299.3,527.6 L1299.5,527.1 L1299.8,526.6 L1300.1,526.1 L1300.4,525.6 L1300.6,525.1 L1300.8,524.6 L1301.0,524.1 L1301.1,523.6 L1301.3,523.1 L1301.4,522.6 L1301.6,522.1 L1301.7,521.6 L1301.9,521.2 L1302.0,520.7 L1302.2,520.2 L1302.3,519.7 L1302.5,519.2 L1302.6,518.7 L1302.8,518.2 L1302.9,517.7 L1303.0,517.2 L1303.0,516.7 L1303.0,516.2 L1303.0,515.7 L1303.0,515.2 L1303.0,514.7 L1303.0,514.2 L1303.1,513.7 L1303.1,513.2 L1303.1,512.7 L1303.1,512.2 L1303.1,511.7 L1303.1,511.2 L1303.1,510.7 L1303.1,510.2 L1303.0,509.7 L1302.9,509.2 L1302.8,508.7 L1302.7,508.2 L1302.6,507.7 L1302.5,507.2 L1302.4,506.7 L1302.3,506.2 L1302.2,505.7 L1302.1,505.2 L1302.0,504.7 L1301.9,504.2 L1301.8,503.7 L1301.7,503.2 L1301.6,502.7 L1301.4,502.2 L1301.2,501.7 L1300.9,501.2 L1300.6,500.7 L1300.3,500.2 L1300.0,499.7 L1299.8,499.2 L1299.5,498.7 L1299.2,498.2 L1298.9,497.7 L1298.6,497.2 L1298.4,496.7 L1298.1,496.2 L1297.8,495.7 L1297.5,495.2 L1297.1,494.7 L1296.7,494.2 L1296.3,493.7 L1295.9,493.2 L1295.5,492.7 L1295.0,492.2 L1294.6,491.7 L1294.2,491.2 L1293.8,490.7 L1293.3,490.2 L1292.9,489.7 L1292.5,489.2 L1292.0,488.7 L1291.6,488.2 L1291.2,487.7 L1290.8,487.2 L1290.5,486.7 L1290.1,486.2 L1289.8,485.7 L1289.4,485.2 L1289.0,484.7 L1288.7,484.2 L1288.3,483.7 L1288.0,483.2 L1287.6,482.7 L1287.3,482.2 L1286.9,481.7 L1286.6,481.2 L1286.2,480.7 L1285.9,480.2 L1285.6,479.7 L1285.4,479.3 L1285.2,478.8 L1284.9,478.3 L1284.7,477.8 L1284.5,477.3 L1284.3,476.8 L1284.1,476.3 L1283.8,475.8 L1283.6,475.3 L1283.4,474.8 L1283.2,474.3 L1283.0,473.8 L1282.7,473.3 L1282.5,472.8 L1282.3,472.3 L1282.1,471.8 L1281.9,471.3 L1281.8,470.8 L1281.6,470.3 L1281.4,469.8 L1281.2,469.3 L1281.0,468.8 L1280.8,468.3 L1280.6,467.8 L1280.5,467.3 L1280.3,466.8 L1280.1,466.3 L1279.9,465.8 L1279.7,465.3 L1279.6,464.8 L1279.5,464.3 L1279.3,463.8 L1279.2,463.3 L1279.1,462.8 L1279.0,462.3 L1278.9,461.8 L1278.8,461.3 L1278.7,460.8 L1278.6,460.3 L1278.5,459.8 L1278.4,459.3 L1278.3,458.8 L1278.2,458.3Z" fill="#7fd3d8" stroke="#274848" stroke-width="1.3" stroke-linejoin="round"/>
<path d="M1478.5,486.5 L1478.2,487.0 L1478.0,487.5 L1477.7,488.0 L1477.4,488.5 L1477.2,489.0 L1476.9,489.5 L1476.6,490.0 L1476.4,490.5 L1476.1,491.0 L1475.8,491.5 L1475.6,492.0 L1475.3,492.5 L1475.0,493.0 L1474.7,493.5 L1474.4,494.0 L1474.1,494.5 L1473.7,495.0 L1473.3,495.5 L1473.0,496.0 L1472.6,496.5 L1472.3,497.0 L1471.9,497.5 L1471.5,498.0 L1471.2,498.5 L1470.8,499.0 L1470.5,499.5 L1470.1,500.0 L1469.7,500.5 L1469.4,501.0 L1469.0,501.5 L1468.7,502.0 L1468.3,502.5 L1467.9,503.0 L1467.6,503.5 L1467.3,504.0 L1467.0,504.5 L1466.7,505.0 L1466.4,505.5 L1466.1,506.0 L1465.8,506.4 L1465.5,506.9 L1465.2,507.4 L1464.9,507.9 L1464.6,508.4 L1464.3,508.9 L1464.0,509.4 L1463.6,509.9 L1463.3,510.4 L1463.0,510.9 L1462.7,511.4 L1462.4,511.9 L1462.2,512.4 L1462.1,512.9 L1462.0,513.4 L1461.8,513.9 L1461.7,514.4 L1461.6,514.9 L1461.5,515.4 L1461.4,515.9 L1461.3,516.4 L1461.2,516.9 L1461.1,517.4 L1461.0,517.9 L1460.9,518.4 L1460.8,518.9 L1460.7,519.4 L1460.6,519.9 L1460.5,520.4 L1460.3,520.9 L1460.3,521.4 L1460.2,521.9 L1460.3,522.4 L1460.3,522.9 L1460.3,523.4 L1460.3,523.9 L1460.4,524.4 L1460.4,524.9 L1460.4,525.4 L1460.5,525.9 L1460.5,526.4 L1460.5,526.9 L1460.6,527.4 L1460.6,527.9 L1460.6,528.4 L1460.7,528.9 L1460.7,529.4 L1460.7,529.9 L1460.8,530.4 L1460.8,530.9 L1460.9,531.4 L1461.0,531.9 L1461.2,532.4 L1461.3,532.9 L1461.4,533.4 L1461.5,533.9 L1461.6,534.4 L1461.7,534.9 L1461.9,535.4 L1462.0,535.9 L1462.1,536.4 L1462.2,536.9 L1462.3,537.4 L1462.4,537.9 L1462.6,538.4 L1462.7,538.9 L1462.8,539.4 L1462.9,539.9 L1463.0,540.4 L1463.2,540.9 L1463.3,541.4 L1463.5,541.9 L1463.6,542.4 L1463.7,542.9 L1463.9,543.4 L1464.0,543.9 L1464.2,544.4 L1464.3,544.9 L1464.4,545.4 L1464.6,545.8 L1464.7,546.3 L1464.9,546.8 L1465.0,547.3 L1465.1,547.8 L1465.3,548.3 L1465.4,548.8 L1465.6,549.3 L1465.7,549.8 L1465.9,550.3 L1466.1,550.8 L1466.3,551.3 L1466.5,551.8 L1466.7,552.3 L1466.8,552.8 L1467.0,553.3 L1467.2,553.8 L1467.4,554.3 L1467.6,554.8 L1467.8,555.3 L1468.0,555.8 L1468.1,556.3 L1468.3,556.8 L1468.5,557.3 L1468.6,557.8 L1468.8,558.3 L1468.9,558.8 L1469.1,559.3 L1469.2,559.8 L1469.4,560.3 L1469.5,560.8 L1469.7,561.3 L1469.8,561.8 L1470.0,562.3 L1470.1,562.8 L1470.3,563.3 L1470.4,563.8 L1470.6,564.3 L1470.7,564.8 L1470.9,565.3 L1471.0,565.8 L1471.2,566.3 L1471.3,566.8 L1471.5,567.3 L1471.6,567.8 L1471.7,568.3 L1471.9,568.8 L1472.0,569.3 L1472.1,569.8 L1472.2,570.3 L1472.3,570.8 L1472.5,571.3 L1472.6,571.8 L1472.7,572.3 L1472.8,572.8 L1472.9,573.3 L1473.1,573.8 L1473.2,574.3 L1473.3,574.8 L1473.4,575.3 L1473.5,575.8 L1473.7,576.3 L1473.8,576.8 L1473.9,577.3 L1474.0,577.8 L1474.2,578.3 L1474.3,578.8 L1474.4,579.3 L1474.5,579.8 L1474.6,580.3 L1474.7,580.8 L1474.8,581.3 L1474.9,581.8 L1475.0,582.3 L1475.0,582.8 L1475.1,583.3 L1475.2,583.8 L1475.3,584.3 L1475.4,584.7 L1475.5,585.2 L1475.6,585.7 L1475.7,586.2 L1475.8,586.7 L1475.9,587.2 L1476.0,587.7 L1476.1,588.2 L1476.2,588.7 L1476.3,589.2 L1476.4,589.7 L1476.4,590.2 L1476.5,590.7 L1476.6,591.2 L1476.6,591.7 L1476.7,592.2 L1476.7,592.7 L1476.8,593.2 L1476.8,593.7 L1476.9,594.2 L1476.9,594.7 L1477.0,595.2 L1477.0,595.7 L1477.1,596.2 L1477.1,596.7 L1477.2,597.2 L1477.2,597.7 L1477.3,598.2 L1477.3,598.7 L1477.4,599.2 L1477.4,599.7 L1477.5,600.2 L1477.5,600.7 L1477.6,601.2 L1477.6,601.7 L1477.7,602.2 L1477.7,602.7 L1477.8,603.2 L1477.8,603.7 L1477.9,604.2 L1477.9,604.7 L1478.0,605.2 L1478.0,605.7 L1478.1,606.2 L1478.1,606.7 L1478.2,607.2 L1478.2,607.7 L1478.3,608.2 L1478.3,608.7 L1478.4,609.2 L1478.4,609.7 L1478.4,610.2 L1478.5,610.7 L1478.5,611.2 L1478.6,611.7 L1478.6,612.2 L1478.7,612.7 L1478.7,613.2 L1478.8,613.7 L1478.8,614.2 L1478.9,614.7 L1478.9,615.2 L1479.0,615.7 L1479.0,616.2 L1479.1,616.7 L1479.1,617.2 L1479.2,617.7 L1479.2,618.2 L1479.2,618.7 L1479.3,619.2 L1479.3,619.7 L1479.4,620.2 L1479.4,620.7 L1479.5,621.2 L1479.5,621.7 L1479.5,622.2 L1479.6,622.7 L1479.6,623.2 L1479.7,623.7 L1479.7,624.1 L1479.7,624.6 L1479.8,625.1 L1479.8,625.6 L1479.8,626.1 L1479.9,626.6 L1479.9,627.1 L1480.0,627.6 L1480.0,628.1 L1480.0,628.6 L1480.1,629.1 L1480.1,629.6 L1480.2,630.1 L1480.2,630.6 L1480.2,631.1 L1480.3,631.6 L1480.3,632.1 L1480.3,632.6 L1480.4,633.1 L1480.4,633.6 L1480.5,634.1 L1480.5,634.6 L1480.6,635.1 L1480.6,635.6 L1480.6,636.1 L1480.7,636.6 L1480.7,637.1 L1480.8,637.6 L1480.8,638.1 L1480.8,638.6 L1480.9,639.1 L1480.9,639.6 L1481.0,640.1 L1481.0,640.6 L1481.0,641.1 L1481.1,641.6 L1481.1,642.1 L1481.2,642.6 L1481.2,643.1 L1481.2,643.6 L1481.8,643.6 L1481.8,643.1 L1481.8,642.6 L1481.9,642.1 L1481.9,641.6 L1482.0,641.1 L1482.0,640.6 L1482.0,640.1 L1482.1,639.6 L1482.1,639.1 L1482.2,638.6 L1482.2,638.1 L1482.2,637.6 L1482.3,637.1 L1482.3,636.6 L1482.4,636.1 L1482.4,635.6 L1482.4,635.1 L1482.5,634.6 L1482.5,634.1 L1482.6,633.6 L1482.6,633.1 L1482.7,632.6 L1482.7,632.1 L1482.7,631.6 L1482.8,631.1 L1482.8,630.6 L1482.8,630.1 L1482.9,629.6 L1482.9,629.1 L1483.0,628.6 L1483.0,628.1 L1483.0,627.6 L1483.1,627.1 L1483.1,626.6 L1483.2,626.1 L1483.2,625.6 L1483.2,625.1 L1483.3,624.6 L1483.3,624.1 L1483.3,623.7 L1483.4,623.2 L1483.4,622.7 L1483.5,622.2 L1483.5,621.7 L1483.5,621.2 L1483.6,620.7 L1483.6,620.2 L1483.7,619.7 L1483.7,619.2 L1483.8,618.7 L1483.8,618.2 L1483.8,617.7 L1483.9,617.2 L1483.9,616.7 L1484.0,616.2 L1484.0,615.7 L1484.1,615.2 L1484.1,614.7 L1484.2,614.2 L1484.2,613.7 L1484.3,613.2 L1484.3,612.7 L1484.4,612.2 L1484.4,611.7 L1484.5,611.2 L1484.5,610.7 L1484.6,610.2 L1484.6,609.7 L1484.6,609.2 L1484.7,608.7 L1484.7,608.2 L1484.8,607.7 L1484.8,607.2 L1484.9,606.7 L1484.9,606.2 L1485.0,605.7 L1485.0,605.2 L1485.1,604.7 L1485.1,604.2 L1485.2,603.7 L1485.2,603.2 L1485.3,602.7 L1485.3,602.2 L1485.4,601.7 L1485.4,601.2 L1485.5,600.7 L1485.5,600.2 L1485.6,599.7 L1485.6,599.2 L1485.7,598.7 L1485.7,598.2 L1485.8,597.7 L1485.8,597.2 L1485.9,596.7 L1485.9,596.2 L1486.0,595.7 L1486.0,595.2 L1486.1,594.7 L1486.1,594.2 L1486.2,593.7 L1486.2,593.2 L1486.3,592.7 L1486.3,592.2 L1486.4,591.7 L1486.4,591.2 L1486.5,590.7 L1486.6,590.2 L1486.6,589.7 L1486.7,589.2 L1486.8,588.7 L1486.9,588.2 L1487.0,587.7 L1487.1,587.2 L1487.2,586.7 L1487.3,586.2 L1487.4,585.7 L1487.5,585.2 L1487.6,584.7 L1487.7,584.3 L1487.8,583.8 L1487.9,583.3 L1488.0,582.8 L1488.0,582.3 L1488.1,581.8 L1488.2,581.3 L1488.3,580.8 L1488.4,580.3 L1488.5,579.8 L1488.6,579.3 L1488.7,578.8 L1488.8,578.3 L1489.0,577.8 L1489.1,577.3 L1489.2,576.8 L1489.3,576.3 L1489.5,575.8 L1489.6,575.3 L1489.7,574.8 L1489.8,574.3 L1489.9,573.8 L1490.1,573.3 L1490.2,572.8 L1490.3,572.3 L1490.4,571.8 L1490.5,571.3 L1490.7,570.8 L1490.8,570.3 L1490.9,569.8 L1491.0,569.3 L1491.1,568.8 L1491.3,568.3 L1491.4,567.8 L1491.5,567.3 L1491.7,566.8 L1491.8,566.3 L1492.0,565.8 L1492.1,565.3 L1492.3,564.8 L1492.4,564.3 L1492.6,563.8 L1492.7,563.3 L1492.9,562.8 L1493.0,562.3 L1493.2,561.8 L1493.3,561.3 L1493.5,560.8 L1493.6,560.3 L1493.8,559.8 L1493.9,559.3 L1494.1,558.8 L1494.2,558.3 L1494.4,557.8 L1494.5,557.3 L1494.7,556.8 L1494.9,556.3 L1495.0,555.8 L1495.2,555.3 L1495.4,554.8 L1495.6,554.3 L1495.8,553.8 L1496.0,553.3 L1496.2,552.8 L1496.3,552.3 L1496.5,551.8 L1496.7,551.3 L1496.9,550.8 L1497.1,550.3 L1497.3,549.8 L1497.4,549.3 L1497.6,548.8 L1497.7,548.3 L1497.9,547.8 L1498.0,547.3 L1498.1,546.8 L1498.3,546.3 L1498.4,545.8 L1498.6,545.4 L1498.7,544.9 L1498.8,544.4 L1499.0,543.9 L1499.1,543.4 L1499.3,542.9 L1499.4,542.4 L1499.5,541.9 L1499.7,541.4 L1499.8,540.9 L1500.0,540.4 L1500.1,539.9 L1500.2,539.4 L1500.3,538.9 L1500.4,538.4 L1500.6,537.9 L1500.7,537.4 L1500.8,536.9 L1500.9,536.4 L1501.0,535.9 L1501.1,535.4 L1501.3,534.9 L1501.4,534.4 L1501.5,533.9 L1501.6,533.4 L1501.7,532.9 L1501.8,532.4 L1502.0,531.9 L1502.1,531.4 L1502.2,530.9 L1502.2,530.4 L1502.3,529.9 L1502.3,529.4 L1502.3,528.9 L1502.4,528.4 L1502.4,527.9 L1502.4,527.4 L1502.5,526.9 L1502.5,526.4 L1502.5,525.9 L1502.6,525.4 L1502.6,524.9 L1502.6,524.4 L1502.7,523.9 L1502.7,523.4 L1502.7,522.9 L1502.7,522.4 L1502.8,521.9 L1502.7,521.4 L1502.7,520.9 L1502.5,520.4 L1502.4,519.9 L1502.3,519.4 L1502.2,518.9 L1502.1,518.4 L1502.0,517.9 L1501.9,517.4 L1501.8,516.9 L1501.7,516.4 L1501.6,515.9 L1501.5,515.4 L1501.4,514.9 L1501.3,514.4 L1501.2,513.9 L1501.0,513.4 L1500.9,512.9 L1500.8,512.4 L1500.6,511.9 L1500.3,511.4 L1500.0,510.9 L1499.7,510.4 L1499.4,509.9 L1499.0,509.4 L1498.7,508.9 L1498.4,508.4 L1498.1,507.9 L1497.8,507.4 L1497.5,506.9 L1497.2,506.4 L1496.9,506.0 L1496.6,505.5 L1496.3,505.0 L1496.0,504.5 L1495.7,504.0 L1495.4,503.5 L1495.1,503.0 L1494.7,502.5 L1494.3,502.0 L1494.0,501.5 L1493.6,501.0 L1493.3,500.5 L1492.9,500.0 L1492.5,499.5 L1492.2,499.0 L1491.8,498.5 L1491.5,498.0 L1491.1,497.5 L1490.7,497.0 L1490.4,496.5 L1490.0,496.0 L1489.7,495.5 L1489.3,495.0 L1488.9,494.5 L1488.6,494.0 L1488.3,493.5 L1488.0,493.0 L1487.7,492.5 L1487.4,492.0 L1487.2,491.5 L1486.9,491.0 L1486.6,490.5 L1486.4,490.0 L1486.1,489.5 L1485.8,489.0 L1485.6,488.5 L1485.3,488.0 L1485.0,487.5 L1484.8,487.0 L1484.5,486.5Z" fill="#f7a6a3" stroke="#4a3232" stroke-width="1.3" stroke-linejoin="round"/>
<path d="M1647.3,474.6 L1647.3,475.1 L1647.2,475.6 L1647.2,476.1 L1647.2,476.6 L1647.1,477.1 L1647.1,477.6 L1647.0,478.1 L1647.0,478.6 L1647.0,479.1 L1646.9,479.6 L1646.9,480.1 L1646.8,480.6 L1646.7,481.1 L1646.6,481.6 L1646.5,482.1 L1646.4,482.6 L1646.3,483.1 L1646.2,483.6 L1646.1,484.1 L1646.0,484.6 L1645.9,485.1 L1645.8,485.6 L1645.7,486.1 L1645.6,486.6 L1645.5,487.1 L1645.3,487.6 L1645.2,488.1 L1645.0,488.6 L1644.8,489.1 L1644.7,489.6 L1644.5,490.1 L1644.3,490.6 L1644.2,491.1 L1644.0,491.6 L1643.9,492.1 L1643.7,492.6 L1643.5,493.1 L1643.4,493.6 L1643.2,494.1 L1643.0,494.6 L1642.9,495.1 L1642.7,495.6 L1642.6,496.1 L1642.4,496.6 L1642.2,497.1 L1642.1,497.6 L1641.9,498.1 L1641.8,498.6 L1641.6,499.1 L1641.4,499.6 L1641.3,500.1 L1641.1,500.6 L1640.9,501.1 L1640.8,501.6 L1640.6,502.1 L1640.5,502.6 L1640.3,503.1 L1640.2,503.6 L1640.0,504.1 L1639.9,504.6 L1639.7,505.1 L1639.6,505.6 L1639.4,506.1 L1639.3,506.6 L1639.1,507.1 L1639.0,507.6 L1638.8,508.1 L1638.7,508.6 L1638.5,509.1 L1638.4,509.6 L1638.2,510.1 L1638.1,510.6 L1637.9,511.1 L1637.8,511.6 L1637.6,512.1 L1637.5,512.6 L1637.3,513.1 L1637.2,513.6 L1637.0,514.1 L1636.8,514.6 L1636.7,515.1 L1636.6,515.6 L1636.4,516.1 L1636.3,516.6 L1636.2,517.1 L1636.1,517.6 L1636.0,518.1 L1635.9,518.5 L1635.8,519.0 L1635.7,519.5 L1635.6,520.0 L1635.5,520.5 L1635.4,521.0 L1635.3,521.5 L1635.2,522.0 L1635.1,522.5 L1635.0,523.0 L1634.9,523.5 L1634.8,524.0 L1634.7,524.5 L1634.6,525.0 L1634.5,525.5 L1634.4,526.0 L1634.3,526.5 L1634.2,527.0 L1634.2,527.5 L1634.1,528.0 L1634.0,528.5 L1633.9,529.0 L1633.9,529.5 L1633.9,530.0 L1633.9,530.5 L1633.9,531.0 L1633.9,531.5 L1633.9,532.0 L1633.9,532.5 L1633.9,533.0 L1633.9,533.5 L1633.9,534.0 L1633.9,534.5 L1633.9,535.0 L1633.9,535.5 L1633.9,536.0 L1633.9,536.5 L1633.9,537.0 L1633.9,537.5 L1633.9,538.0 L1633.9,538.5 L1633.9,539.0 L1633.9,539.5 L1633.9,540.0 L1633.9,540.5 L1634.0,541.0 L1634.0,541.5 L1634.1,542.0 L1634.2,542.5 L1634.2,543.0 L1634.3,543.5 L1634.4,544.0 L1634.4,544.5 L1634.5,545.0 L1634.6,545.5 L1634.6,546.0 L1634.7,546.5 L1634.8,547.0 L1634.8,547.5 L1634.9,548.0 L1634.9,548.5 L1635.0,549.0 L1635.1,549.5 L1635.1,550.0 L1635.2,550.5 L1635.3,551.0 L1635.3,551.5 L1635.4,552.0 L1635.5,552.5 L1635.7,553.0 L1635.8,553.5 L1635.9,554.0 L1636.0,554.5 L1636.2,555.0 L1636.3,555.5 L1636.4,556.0 L1636.5,556.5 L1636.7,557.0 L1636.8,557.5 L1636.9,558.0 L1637.0,558.5 L1637.2,559.0 L1637.3,559.5 L1637.4,560.0 L1637.5,560.5 L1637.7,561.0 L1637.8,561.5 L1637.9,562.0 L1638.0,562.5 L1638.1,563.0 L1638.3,563.5 L1638.4,564.0 L1638.5,564.5 L1638.6,565.0 L1638.8,565.5 L1638.9,566.0 L1639.0,566.5 L1639.1,567.0 L1639.2,567.5 L1639.3,568.0 L1639.4,568.5 L1639.5,569.0 L1639.6,569.5 L1639.6,570.0 L1639.7,570.5 L1639.8,571.0 L1639.9,571.5 L1640.0,572.0 L1640.1,572.5 L1640.2,573.0 L1640.3,573.5 L1640.4,574.0 L1640.4,574.5 L1640.5,575.0 L1640.6,575.5 L1640.7,576.0 L1640.8,576.5 L1640.9,577.0 L1641.0,577.5 L1641.1,578.0 L1641.2,578.5 L1641.2,579.0 L1641.3,579.5 L1641.4,580.0 L1641.5,580.5 L1641.6,581.0 L1641.6,581.5 L1641.7,582.0 L1641.7,582.5 L1641.8,583.0 L1641.8,583.5 L1641.9,584.0 L1641.9,584.5 L1642.0,585.0 L1642.0,585.5 L1642.1,586.0 L1642.1,586.5 L1642.2,587.0 L1642.2,587.5 L1642.3,588.0 L1642.3,588.5 L1642.4,589.0 L1642.4,589.5 L1642.5,590.0 L1642.5,590.5 L1642.6,591.0 L1642.6,591.5 L1642.7,592.0 L1642.7,592.5 L1642.8,593.0 L1642.8,593.5 L1642.9,594.0 L1642.9,594.5 L1643.0,595.0 L1643.0,595.5 L1643.0,596.0 L1643.0,596.5 L1643.0,597.0 L1643.0,597.5 L1643.0,598.0 L1643.0,598.5 L1643.1,599.0 L1643.1,599.5 L1643.1,600.0 L1643.1,600.5 L1643.1,601.0 L1643.1,601.5 L1643.1,602.0 L1643.1,602.5 L1643.1,603.0 L1643.1,603.5 L1643.1,604.0 L1643.1,604.5 L1643.1,605.0 L1643.1,605.4 L1643.2,605.9 L1643.2,606.4 L1643.2,606.9 L1643.2,607.4 L1643.2,607.9 L1643.2,608.4 L1643.2,608.9 L1643.2,609.4 L1643.2,609.9 L1643.2,610.4 L1643.2,610.9 L1643.2,611.4 L1643.2,611.9 L1643.2,612.4 L1643.3,612.9 L1643.3,613.4 L1643.3,613.9 L1643.3,614.4 L1643.3,614.9 L1643.3,615.4 L1643.3,615.9 L1643.3,616.4 L1643.3,616.9 L1643.4,617.4 L1643.4,617.9 L1643.4,618.4 L1643.4,618.9 L1643.4,619.4 L1643.5,619.9 L1643.5,620.4 L1643.5,620.9 L1643.5,621.4 L1643.5,621.9 L1643.6,622.4 L1643.6,622.9 L1643.6,623.4 L1643.6,623.9 L1643.6,624.4 L1643.7,624.9 L1643.7,625.4 L1643.7,625.9 L1643.8,626.4 L1643.8,626.9 L1643.9,627.4 L1643.9,627.9 L1644.0,628.4 L1644.1,628.9 L1644.1,629.4 L1644.2,629.9 L1644.3,630.4 L1644.3,630.9 L1644.4,631.4 L1644.4,631.9 L1644.5,632.4 L1644.6,632.9 L1644.6,633.4 L1644.7,633.9 L1644.8,634.4 L1644.9,634.9 L1645.0,635.4 L1645.1,635.9 L1645.1,636.4 L1645.2,636.9 L1645.3,637.4 L1645.4,637.9 L1645.5,638.4 L1645.6,638.9 L1645.7,639.4 L1645.8,639.9 L1645.9,640.4 L1646.0,640.9 L1646.1,641.4 L1646.2,641.9 L1646.3,642.4 L1646.4,642.9 L1646.4,643.4 L1646.5,643.9 L1646.6,644.4 L1646.7,644.9 L1646.8,645.4 L1646.9,645.9 L1647.0,646.4 L1647.1,646.9 L1647.2,647.4 L1647.3,647.9 L1647.4,648.4 L1647.5,648.9 L1647.6,649.4 L1647.7,649.9 L1647.7,650.4 L1647.8,650.9 L1647.9,651.4 L1648.0,651.9 L1648.0,652.4 L1648.1,652.9 L1648.2,653.4 L1648.3,653.9 L1648.3,654.4 L1648.4,654.9 L1648.5,655.4 L1648.5,655.9 L1648.6,656.4 L1648.7,656.9 L1648.7,657.4 L1648.8,657.9 L1648.8,658.4 L1648.8,658.9 L1648.9,659.4 L1648.9,659.9 L1648.9,660.4 L1648.9,660.9 L1649.0,661.4 L1649.0,661.9 L1649.0,662.4 L1649.1,662.9 L1649.1,663.4 L1649.1,663.9 L1649.1,664.4 L1649.2,664.9 L1649.2,665.4 L1649.2,665.9 L1649.2,666.4 L1649.2,666.9 L1649.2,667.4 L1649.2,667.9 L1649.2,668.4 L1649.2,668.9 L1649.2,669.4 L1649.2,669.9 L1649.2,670.4 L1649.2,670.9 L1649.2,671.4 L1649.2,671.9 L1649.2,672.4 L1649.2,672.9 L1649.2,673.4 L1649.2,673.9 L1649.2,674.4 L1649.2,674.9 L1649.2,675.4 L1649.2,675.9 L1649.2,676.4 L1649.2,676.9 L1649.2,677.4 L1649.2,677.9 L1649.2,678.4 L1649.2,678.9 L1649.2,679.4 L1649.2,679.9 L1649.2,680.4 L1649.2,680.9 L1649.2,681.4 L1649.2,681.9 L1649.2,682.4 L1649.2,682.9 L1649.2,683.4 L1649.2,683.9 L1649.2,684.4 L1649.2,684.9 L1649.2,685.4 L1649.2,685.9 L1649.2,686.4 L1649.2,686.9 L1649.2,687.4 L1649.2,687.9 L1649.2,688.4 L1649.2,688.9 L1649.2,689.4 L1649.2,689.9 L1649.2,690.4 L1649.2,690.9 L1649.2,691.4 L1649.2,691.9 L1649.2,692.3 L1649.2,692.8 L1649.2,693.3 L1649.2,693.8 L1649.2,694.3 L1649.2,694.8 L1649.2,695.3 L1649.2,695.8 L1649.2,696.3 L1649.2,696.8 L1649.2,697.3 L1649.2,697.8 L1649.2,698.3 L1649.2,698.8 L1649.2,699.3 L1649.2,699.8 L1649.2,700.3 L1649.2,700.8 L1649.2,701.3 L1649.2,701.8 L1649.2,702.3 L1649.2,702.8 L1649.2,703.3 L1649.2,703.8 L1649.2,704.3 L1649.2,704.8 L1649.2,705.3 L1649.2,705.8 L1649.2,706.3 L1649.2,706.8 L1649.2,707.3 L1649.2,707.8 L1649.2,708.3 L1649.2,708.8 L1649.2,709.3 L1649.2,709.8 L1649.2,710.3 L1649.2,710.8 L1649.2,711.3 L1649.2,711.8 L1649.2,712.3 L1649.2,712.8 L1649.2,713.3 L1649.2,713.8 L1649.2,714.3 L1649.2,714.8 L1649.2,715.3 L1649.2,715.8 L1649.2,716.3 L1649.2,716.8 L1649.2,717.3 L1649.2,717.8 L1649.2,718.3 L1649.2,718.8 L1649.2,719.3 L1649.2,719.8 L1649.2,720.3 L1649.2,720.8 L1649.2,721.3 L1649.2,721.8 L1649.2,722.3 L1649.2,722.8 L1649.2,723.3 L1649.2,723.8 L1649.2,724.3 L1649.2,724.8 L1649.2,725.3 L1649.2,725.8 L1649.2,726.3 L1649.2,726.8 L1649.2,727.3 L1649.2,727.8 L1649.2,728.3 L1649.2,728.8 L1649.2,729.3 L1649.2,729.8 L1649.2,730.3 L1649.2,730.8 L1649.2,731.3 L1649.2,731.8 L1649.2,732.3 L1649.2,732.8 L1649.2,733.3 L1649.2,733.8 L1649.2,734.3 L1649.2,734.8 L1649.2,735.3 L1649.2,735.8 L1649.8,735.8 L1649.8,735.3 L1649.8,734.8 L1649.8,734.3 L1649.8,733.8 L1649.8,733.3 L1649.8,732.8 L1649.8,732.3 L1649.8,731.8 L1649.8,731.3 L1649.8,730.8 L1649.8,730.3 L1649.8,729.8 L1649.8,729.3 L1649.8,728.8 L1649.8,728.3 L1649.8,727.8 L1649.8,727.3 L1649.8,726.8 L1649.8,726.3 L1649.8,725.8 L1649.8,725.3 L1649.8,724.8 L1649.8,724.3 L1649.8,723.8 L1649.8,723.3 L1649.8,722.8 L1649.8,722.3 L1649.8,721.8 L1649.8,721.3 L1649.8,720.8 L1649.8,720.3 L1649.8,719.8 L1649.8,719.3 L1649.8,718.8 L1649.8,718.3 L1649.8,717.8 L1649.8,717.3 L1649.8,716.8 L1649.8,716.3 L1649.8,715.8 L1649.8,715.3 L1649.8,714.8 L1649.8,714.3 L1649.8,713.8 L1649.8,713.3 L1649.8,712.8 L1649.8,712.3 L1649.8,711.8 L1649.8,711.3 L1649.8,710.8 L1649.8,710.3 L1649.8,709.8 L1649.8,709.3 L1649.8,708.8 L1649.8,708.3 L1649.8,707.8 L1649.8,707.3 L1649.8,706.8 L1649.8,706.3 L1649.8,705.8 L1649.8,705.3 L1649.8,704.8 L1649.8,704.3 L1649.8,703.8 L1649.8,703.3 L1649.8,702.8 L1649.8,702.3 L1649.8,701.8 L1649.8,701.3 L1649.8,700.8 L1649.8,700.3 L1649.8,699.8 L1649.8,699.3 L1649.8,698.8 L1649.8,698.3 L1649.8,697.8 L1649.8,697.3 L1649.8,696.8 L1649.8,696.3 L1649.8,695.8 L1649.8,695.3 L1649.8,694.8 L1649.8,694.3 L1649.8,693.8 L1649.8,693.3 L1649.8,692.8 L1649.8,692.3 L1649.8,691.9 L1649.8,691.4 L1649.8,690.9 L1649.8,690.4 L1649.8,689.9 L1649.8,689.4 L1649.8,688.9 L1649.8,688.4 L1649.8,687.9 L1649.8,687.4 L1649.8,686.9 L1649.8,686.4 L1649.8,685.9 L1649.8,685.4 L1649.8,684.9 L1649.8,684.4 L1649.8,683.9 L1649.8,683.4 L1649.8,682.9 L1649.8,682.4 L1649.8,681.9 L1649.8,681.4 L1649.8,680.9 L1649.8,680.4 L1649.8,679.9 L1649.8,679.4 L1649.8,678.9 L1649.8,678.4 L1649.8,677.9 L1649.8,677.4 L1649.8,676.9 L1649.8,676.4 L1649.8,675.9 L1649.8,675.4 L1649.8,674.9 L1649.8,674.4 L1649.8,673.9 L1649.8,673.4 L1649.8,672.9 L1649.8,672.4 L1649.8,671.9 L1649.8,671.4 L1649.8,670.9 L1649.8,670.4 L1649.8,669.9 L1649.8,669.4 L1649.8,668.9 L1649.8,668.4 L1649.8,667.9 L1649.8,667.4 L1649.8,666.9 L1649.8,666.4 L1649.8,665.9 L1649.8,665.4 L1649.8,664.9 L1649.9,664.4 L1649.9,663.9 L1649.9,663.4 L1649.9,662.9 L1650.0,662.4 L1650.0,661.9 L1650.0,661.4 L1650.1,660.9 L1650.1,660.4 L1650.1,659.9 L1650.1,659.4 L1650.2,658.9 L1650.2,658.4 L1650.2,657.9 L1650.3,657.4 L1650.3,656.9 L1650.4,656.4 L1650.5,655.9 L1650.5,655.4 L1650.6,654.9 L1650.7,654.4 L1650.7,653.9 L1650.8,653.4 L1650.9,652.9 L1651.0,652.4 L1651.0,651.9 L1651.1,651.4 L1651.2,650.9 L1651.3,650.4 L1651.3,649.9 L1651.4,649.4 L1651.5,648.9 L1651.6,648.4 L1651.7,647.9 L1651.8,647.4 L1651.9,646.9 L1652.0,646.4 L1652.1,645.9 L1652.2,645.4 L1652.3,644.9 L1652.4,644.4 L1652.5,643.9 L1652.6,643.4 L1652.6,642.9 L1652.7,642.4 L1652.8,641.9 L1652.9,641.4 L1653.0,640.9 L1653.1,640.4 L1653.2,639.9 L1653.3,639.4 L1653.4,638.9 L1653.5,638.4 L1653.6,637.9 L1653.7,637.4 L1653.8,636.9 L1653.9,636.4 L1653.9,635.9 L1654.0,635.4 L1654.1,634.9 L1654.2,634.4 L1654.3,633.9 L1654.4,633.4 L1654.4,632.9 L1654.5,632.4 L1654.6,631.9 L1654.6,631.4 L1654.7,630.9 L1654.7,630.4 L1654.8,629.9 L1654.9,629.4 L1654.9,628.9 L1655.0,628.4 L1655.1,627.9 L1655.1,627.4 L1655.2,626.9 L1655.2,626.4 L1655.3,625.9 L1655.3,625.4 L1655.3,624.9 L1655.4,624.4 L1655.4,623.9 L1655.4,623.4 L1655.4,622.9 L1655.4,622.4 L1655.5,621.9 L1655.5,621.4 L1655.5,620.9 L1655.5,620.4 L1655.5,619.9 L1655.6,619.4 L1655.6,618.9 L1655.6,618.4 L1655.6,617.9 L1655.6,617.4 L1655.7,616.9 L1655.7,616.4 L1655.7,615.9 L1655.7,615.4 L1655.7,614.9 L1655.7,614.4 L1655.7,613.9 L1655.7,613.4 L1655.7,612.9 L1655.8,612.4 L1655.8,611.9 L1655.8,611.4 L1655.8,610.9 L1655.8,610.4 L1655.8,609.9 L1655.8,609.4 L1655.8,608.9 L1655.8,608.4 L1655.8,607.9 L1655.8,607.4 L1655.8,606.9 L1655.8,606.4 L1655.8,605.9 L1655.9,605.4 L1655.9,605.0 L1655.9,604.5 L1655.9,604.0 L1655.9,603.5 L1655.9,603.0 L1655.9,602.5 L1655.9,602.0 L1655.9,601.5 L1655.9,601.0 L1655.9,600.5 L1655.9,600.0 L1655.9,599.5 L1655.9,599.0 L1656.0,598.5 L1656.0,598.0 L1656.0,597.5 L1656.0,597.0 L1656.0,596.5 L1656.0,596.0 L1656.0,595.5 L1656.0,595.0 L1656.1,594.5 L1656.1,594.0 L1656.2,593.5 L1656.2,593.0 L1656.3,592.5 L1656.3,592.0 L1656.4,591.5 L1656.4,591.0 L1656.5,590.5 L1656.5,590.0 L1656.6,589.5 L1656.6,589.0 L1656.7,588.5 L1656.7,588.0 L1656.8,587.5 L1656.8,587.0 L1656.9,586.5 L1656.9,586.0 L1657.0,585.5 L1657.0,585.0 L1657.1,584.5 L1657.1,584.0 L1657.2,583.5 L1657.2,583.0 L1657.3,582.5 L1657.3,582.0 L1657.4,581.5 L1657.4,581.0 L1657.5,580.5 L1657.6,580.0 L1657.7,579.5 L1657.8,579.0 L1657.8,578.5 L1657.9,578.0 L1658.0,577.5 L1658.1,577.0 L1658.2,576.5 L1658.3,576.0 L1658.4,575.5 L1658.5,575.0 L1658.6,574.5 L1658.6,574.0 L1658.7,573.5 L1658.8,573.0 L1658.9,572.5 L1659.0,572.0 L1659.1,571.5 L1659.2,571.0 L1659.3,570.5 L1659.4,570.0 L1659.4,569.5 L1659.5,569.0 L1659.6,568.5 L1659.7,568.0 L1659.8,567.5 L1659.9,567.0 L1660.0,566.5 L1660.1,566.0 L1660.2,565.5 L1660.4,565.0 L1660.5,564.5 L1660.6,564.0 L1660.7,563.5 L1660.9,563.0 L1661.0,562.5 L1661.1,562.0 L1661.2,561.5 L1661.3,561.0 L1661.5,560.5 L1661.6,560.0 L1661.7,559.5 L1661.8,559.0 L1662.0,558.5 L1662.1,558.0 L1662.2,557.5 L1662.3,557.0 L1662.5,556.5 L1662.6,556.0 L1662.7,555.5 L1662.8,555.0 L1663.0,554.5 L1663.1,554.0 L1663.2,553.5 L1663.3,553.0 L1663.5,552.5 L1663.6,552.0 L1663.7,551.5 L1663.7,551.0 L1663.8,550.5 L1663.9,550.0 L1663.9,549.5 L1664.0,549.0 L1664.1,548.5 L1664.1,548.0 L1664.2,547.5 L1664.2,547.0 L1664.3,546.5 L1664.4,546.0 L1664.4,545.5 L1664.5,545.0 L1664.6,544.5 L1664.6,544.0 L1664.7,543.5 L1664.8,543.0 L1664.8,542.5 L1664.9,542.0 L1665.0,541.5 L1665.0,541.0 L1665.1,540.5 L1665.1,540.0 L1665.1,539.5 L1665.1,539.0 L1665.1,538.5 L1665.1,538.0 L1665.1,537.5 L1665.1,537.0 L1665.1,536.5 L1665.1,536.0 L1665.1,535.5 L1665.1,535.0 L1665.1,534.5 L1665.1,534.0 L1665.1,533.5 L1665.1,533.0 L1665.1,532.5 L1665.1,532.0 L1665.1,531.5 L1665.1,531.0 L1665.1,530.5 L1665.1,530.0 L1665.1,529.5 L1665.1,529.0 L1665.0,528.5 L1664.9,528.0 L1664.8,527.5 L1664.8,527.0 L1664.7,526.5 L1664.6,526.0 L1664.5,525.5 L1664.4,525.0 L1664.3,524.5 L1664.2,524.0 L1664.1,523.5 L1664.0,523.0 L1663.9,522.5 L1663.8,522.0 L1663.7,521.5 L1663.6,521.0 L1663.5,520.5 L1663.4,520.0 L1663.3,519.5 L1663.2,519.0 L1663.1,518.5 L1663.0,518.1 L1662.9,517.6 L1662.8,517.1 L1662.7,516.6 L1662.6,516.1 L1662.4,515.6 L1662.3,515.1 L1662.2,514.6 L1662.0,514.1 L1661.8,513.6 L1661.7,513.1 L1661.5,512.6 L1661.4,512.1 L1661.2,511.6 L1661.1,511.1 L1660.9,510.6 L1660.8,510.1 L1660.6,509.6 L1660.5,509.1 L1660.3,508.6 L1660.2,508.1 L1660.0,507.6 L1659.9,507.1 L1659.7,506.6 L1659.6,506.1 L1659.4,505.6 L1659.3,505.1 L1659.1,504.6 L1659.0,504.1 L1658.8,503.6 L1658.7,503.1 L1658.5,502.6 L1658.4,502.1 L1658.2,501.6 L1658.1,501.1 L1657.9,500.6 L1657.7,500.1 L1657.6,499.6 L1657.4,499.1 L1657.2,498.6 L1657.1,498.1 L1656.9,497.6 L1656.8,497.1 L1656.6,496.6 L1656.4,496.1 L1656.3,495.6 L1656.1,495.1 L1656.0,494.6 L1655.8,494.1 L1655.6,493.6 L1655.5,493.1 L1655.3,492.6 L1655.1,492.1 L1655.0,491.6 L1654.8,491.1 L1654.7,490.6 L1654.5,490.1 L1654.3,489.6 L1654.2,489.1 L1654.0,488.6 L1653.8,488.1 L1653.7,487.6 L1653.5,487.1 L1653.4,486.6 L1653.3,486.1 L1653.2,485.6 L1653.1,485.1 L1653.0,484.6 L1652.9,484.1 L1652.8,483.6 L1652.7,483.1 L1652.6,482.6 L1652.5,482.1 L1652.4,481.6 L1652.3,481.1 L1652.2,480.6 L1652.1,480.1 L1652.1,479.6 L1652.0,479.1 L1652.0,478.6 L1652.0,478.1 L1651.9,477.6 L1651.9,477.1 L1651.8,476.6 L1651.8,476.1 L1651.8,475.6 L1651.7,475.1 L1651.7,474.6Z" fill="#7fd3d8" stroke="#274848" stroke-width="1.3" stroke-linejoin="round"/>
<line x1="1649.5" x2="1649.5" y1="660" y2="735.8" stroke="#3b4444" stroke-width="2.1"/>
<circle cx="678.5" cy="393.1" r="2.05" fill="rgba(160,72,80,0.66)" stroke="#501f28" stroke-width="1.4"/>
<circle cx="695.8" cy="393.1" r="2.05" fill="rgba(160,72,80,0.66)" stroke="#501f28" stroke-width="1.4"/>
<circle cx="777.6" cy="380.5" r="2.05" fill="rgba(160,72,80,0.66)" stroke="#501f28" stroke-width="1.4"/>
<circle cx="785.5" cy="388.9" r="2.05" fill="rgba(160,72,80,0.66)" stroke="#501f28" stroke-width="1.4"/>
<circle cx="773.9" cy="393.1" r="2.05" fill="rgba(160,72,80,0.66)" stroke="#501f28" stroke-width="1.4"/>
<circle cx="783.4" cy="396.2" r="2.05" fill="rgba(160,72,80,0.66)" stroke="#501f28" stroke-width="1.4"/>
<circle cx="799.1" cy="396.7" r="2.05" fill="rgba(160,72,80,0.66)" stroke="#501f28" stroke-width="1.4"/>
<circle cx="765.0" cy="395.2" r="2.05" fill="rgba(160,72,80,0.66)" stroke="#501f28" stroke-width="1.4"/>
<circle cx="767.7" cy="397.8" r="2.05" fill="rgba(160,72,80,0.66)" stroke="#501f28" stroke-width="1.4"/>
<circle cx="674.4" cy="403.0" r="2.05" fill="rgba(160,72,80,0.66)" stroke="#501f28" stroke-width="1.4"/>
<circle cx="689.0" cy="398.3" r="2.05" fill="rgba(160,72,80,0.66)" stroke="#501f28" stroke-width="1.4"/>
<circle cx="689.6" cy="400.4" r="2.05" fill="rgba(160,72,80,0.66)" stroke="#501f28" stroke-width="1.4"/>
<circle cx="697.4" cy="400.4" r="2.05" fill="rgba(160,72,80,0.66)" stroke="#501f28" stroke-width="1.4"/>
<circle cx="705.3" cy="397.8" r="2.05" fill="rgba(160,72,80,0.66)" stroke="#501f28" stroke-width="1.4"/>
<circle cx="707.9" cy="400.4" r="2.05" fill="rgba(160,72,80,0.66)" stroke="#501f28" stroke-width="1.4"/>
<circle cx="709.5" cy="401.4" r="2.05" fill="rgba(160,72,80,0.66)" stroke="#501f28" stroke-width="1.4"/>
<circle cx="703.2" cy="404.1" r="2.05" fill="rgba(160,72,80,0.66)" stroke="#501f28" stroke-width="1.4"/>
<circle cx="717.9" cy="396.2" r="2.05" fill="rgba(160,72,80,0.66)" stroke="#501f28" stroke-width="1.4"/>
<circle cx="717.9" cy="400.9" r="2.05" fill="rgba(160,72,80,0.66)" stroke="#501f28" stroke-width="1.4"/>
<circle cx="732.0" cy="397.8" r="2.05" fill="rgba(160,72,80,0.66)" stroke="#501f28" stroke-width="1.4"/>
<circle cx="727.3" cy="400.9" r="2.05" fill="rgba(160,72,80,0.66)" stroke="#501f28" stroke-width="1.4"/>
<circle cx="728.9" cy="391.0" r="2.05" fill="rgba(160,72,80,0.66)" stroke="#501f28" stroke-width="1.4"/>
<circle cx="746.2" cy="395.2" r="2.05" fill="rgba(160,72,80,0.66)" stroke="#501f28" stroke-width="1.4"/>
<circle cx="749.8" cy="397.3" r="2.05" fill="rgba(160,72,80,0.66)" stroke="#501f28" stroke-width="1.4"/>
<circle cx="746.7" cy="399.4" r="2.05" fill="rgba(160,72,80,0.66)" stroke="#501f28" stroke-width="1.4"/>
<circle cx="745.1" cy="401.4" r="2.05" fill="rgba(160,72,80,0.66)" stroke="#501f28" stroke-width="1.4"/>
<circle cx="760.8" cy="400.9" r="2.05" fill="rgba(160,72,80,0.66)" stroke="#501f28" stroke-width="1.4"/>
<circle cx="763.5" cy="403.0" r="2.05" fill="rgba(160,72,80,0.66)" stroke="#501f28" stroke-width="1.4"/>
<circle cx="756.6" cy="405.1" r="2.05" fill="rgba(160,72,80,0.66)" stroke="#501f28" stroke-width="1.4"/>
<circle cx="765.6" cy="405.6" r="2.05" fill="rgba(160,72,80,0.66)" stroke="#501f28" stroke-width="1.4"/>
<circle cx="767.7" cy="407.2" r="2.05" fill="rgba(160,72,80,0.66)" stroke="#501f28" stroke-width="1.4"/>
<circle cx="770.3" cy="409.8" r="2.05" fill="rgba(160,72,80,0.66)" stroke="#501f28" stroke-width="1.4"/>
<circle cx="764.5" cy="410.9" r="2.05" fill="rgba(160,72,80,0.66)" stroke="#501f28" stroke-width="1.4"/>
<circle cx="760.8" cy="413.0" r="2.05" fill="rgba(160,72,80,0.66)" stroke="#501f28" stroke-width="1.4"/>
<circle cx="757.7" cy="415.6" r="2.05" fill="rgba(160,72,80,0.66)" stroke="#501f28" stroke-width="1.4"/>
<circle cx="781.3" cy="402.5" r="2.05" fill="rgba(160,72,80,0.66)" stroke="#501f28" stroke-width="1.4"/>
<circle cx="782.3" cy="406.2" r="2.05" fill="rgba(160,72,80,0.66)" stroke="#501f28" stroke-width="1.4"/>
<circle cx="786.0" cy="408.3" r="2.05" fill="rgba(160,72,80,0.66)" stroke="#501f28" stroke-width="1.4"/>
<circle cx="793.3" cy="401.4" r="2.05" fill="rgba(160,72,80,0.66)" stroke="#501f28" stroke-width="1.4"/>
<circle cx="796.0" cy="403.5" r="2.05" fill="rgba(160,72,80,0.66)" stroke="#501f28" stroke-width="1.4"/>
<circle cx="793.9" cy="406.2" r="2.05" fill="rgba(160,72,80,0.66)" stroke="#501f28" stroke-width="1.4"/>
<circle cx="799.6" cy="401.4" r="2.05" fill="rgba(160,72,80,0.66)" stroke="#501f28" stroke-width="1.4"/>
<circle cx="802.2" cy="404.6" r="2.05" fill="rgba(160,72,80,0.66)" stroke="#501f28" stroke-width="1.4"/>
<circle cx="794.9" cy="409.3" r="2.05" fill="rgba(160,72,80,0.66)" stroke="#501f28" stroke-width="1.4"/>
<circle cx="680.6" cy="407.2" r="2.05" fill="rgba(160,72,80,0.66)" stroke="#501f28" stroke-width="1.4"/>
<circle cx="689.6" cy="405.6" r="2.05" fill="rgba(160,72,80,0.66)" stroke="#501f28" stroke-width="1.4"/>
<circle cx="688.5" cy="409.3" r="2.05" fill="rgba(160,72,80,0.66)" stroke="#501f28" stroke-width="1.4"/>
<circle cx="694.3" cy="411.9" r="2.05" fill="rgba(160,72,80,0.66)" stroke="#501f28" stroke-width="1.4"/>
<circle cx="681.2" cy="414.0" r="2.05" fill="rgba(160,72,80,0.66)" stroke="#501f28" stroke-width="1.4"/>
<circle cx="689.6" cy="417.7" r="2.05" fill="rgba(160,72,80,0.66)" stroke="#501f28" stroke-width="1.4"/>
<circle cx="694.3" cy="423.5" r="2.05" fill="rgba(160,72,80,0.66)" stroke="#501f28" stroke-width="1.4"/>
<circle cx="702.1" cy="418.7" r="2.05" fill="rgba(160,72,80,0.66)" stroke="#501f28" stroke-width="1.4"/>
<circle cx="707.9" cy="416.1" r="2.05" fill="rgba(160,72,80,0.66)" stroke="#501f28" stroke-width="1.4"/>
<circle cx="708.9" cy="420.8" r="2.05" fill="rgba(160,72,80,0.66)" stroke="#501f28" stroke-width="1.4"/>
<circle cx="722.1" cy="408.3" r="2.05" fill="rgba(160,72,80,0.66)" stroke="#501f28" stroke-width="1.4"/>
<circle cx="725.7" cy="406.7" r="2.05" fill="rgba(160,72,80,0.66)" stroke="#501f28" stroke-width="1.4"/>
<circle cx="728.9" cy="406.2" r="2.05" fill="rgba(160,72,80,0.66)" stroke="#501f28" stroke-width="1.4"/>
<circle cx="729.9" cy="403.5" r="2.05" fill="rgba(160,72,80,0.66)" stroke="#501f28" stroke-width="1.4"/>
<circle cx="737.8" cy="406.2" r="2.05" fill="rgba(160,72,80,0.66)" stroke="#501f28" stroke-width="1.4"/>
<circle cx="742.5" cy="410.4" r="2.05" fill="rgba(160,72,80,0.66)" stroke="#501f28" stroke-width="1.4"/>
<circle cx="749.3" cy="408.8" r="2.05" fill="rgba(160,72,80,0.66)" stroke="#501f28" stroke-width="1.4"/>
<circle cx="735.2" cy="414.0" r="2.05" fill="rgba(160,72,80,0.66)" stroke="#501f28" stroke-width="1.4"/>
<circle cx="735.2" cy="416.1" r="2.05" fill="rgba(160,72,80,0.66)" stroke="#501f28" stroke-width="1.4"/>
<circle cx="738.8" cy="415.6" r="2.05" fill="rgba(160,72,80,0.66)" stroke="#501f28" stroke-width="1.4"/>
<circle cx="740.4" cy="418.7" r="2.05" fill="rgba(160,72,80,0.66)" stroke="#501f28" stroke-width="1.4"/>
<circle cx="731.0" cy="421.4" r="2.05" fill="rgba(160,72,80,0.66)" stroke="#501f28" stroke-width="1.4"/>
<circle cx="733.1" cy="424.0" r="2.05" fill="rgba(160,72,80,0.66)" stroke="#501f28" stroke-width="1.4"/>
<circle cx="804.9" cy="404.6" r="2.05" fill="rgba(160,72,80,0.66)" stroke="#501f28" stroke-width="1.4"/>
<circle cx="808.5" cy="403.5" r="2.05" fill="rgba(160,72,80,0.66)" stroke="#501f28" stroke-width="1.4"/>
<circle cx="812.7" cy="404.1" r="2.05" fill="rgba(160,72,80,0.66)" stroke="#501f28" stroke-width="1.4"/>
<circle cx="816.9" cy="405.1" r="2.05" fill="rgba(160,72,80,0.66)" stroke="#501f28" stroke-width="1.4"/>
<circle cx="815.4" cy="409.3" r="2.05" fill="rgba(160,72,80,0.66)" stroke="#501f28" stroke-width="1.4"/>
<circle cx="814.8" cy="411.9" r="2.05" fill="rgba(160,72,80,0.66)" stroke="#501f28" stroke-width="1.4"/>
<circle cx="808.0" cy="416.1" r="2.05" fill="rgba(160,72,80,0.66)" stroke="#501f28" stroke-width="1.4"/>
<circle cx="812.7" cy="415.1" r="2.05" fill="rgba(160,72,80,0.66)" stroke="#501f28" stroke-width="1.4"/>
<circle cx="802.2" cy="421.4" r="2.05" fill="rgba(160,72,80,0.66)" stroke="#501f28" stroke-width="1.4"/>
<circle cx="805.4" cy="423.5" r="2.05" fill="rgba(160,72,80,0.66)" stroke="#501f28" stroke-width="1.4"/>
<circle cx="1054.5" cy="476.4" r="2.05" fill="rgba(160,72,80,0.66)" stroke="#501f28" stroke-width="1.4"/>
<circle cx="1069.5" cy="472.3" r="2.05" fill="rgba(160,72,80,0.66)" stroke="#501f28" stroke-width="1.4"/>
<circle cx="1065.4" cy="481.6" r="2.05" fill="rgba(160,72,80,0.66)" stroke="#501f28" stroke-width="1.4"/>
<circle cx="1062.8" cy="484.7" r="2.05" fill="rgba(160,72,80,0.66)" stroke="#501f28" stroke-width="1.4"/>
<circle cx="1047.8" cy="492.4" r="2.05" fill="rgba(160,72,80,0.66)" stroke="#501f28" stroke-width="1.4"/>
<circle cx="1048.3" cy="498.7" r="2.05" fill="rgba(160,72,80,0.66)" stroke="#501f28" stroke-width="1.4"/>
<circle cx="1060.2" cy="495.5" r="2.05" fill="rgba(160,72,80,0.66)" stroke="#501f28" stroke-width="1.4"/>
<circle cx="1063.3" cy="494.0" r="2.05" fill="rgba(160,72,80,0.66)" stroke="#501f28" stroke-width="1.4"/>
<circle cx="1069.0" cy="492.4" r="2.05" fill="rgba(160,72,80,0.66)" stroke="#501f28" stroke-width="1.4"/>
<circle cx="1068.0" cy="501.2" r="2.05" fill="rgba(160,72,80,0.66)" stroke="#501f28" stroke-width="1.4"/>
<circle cx="1070.0" cy="505.4" r="2.05" fill="rgba(160,72,80,0.66)" stroke="#501f28" stroke-width="1.4"/>
<circle cx="1058.1" cy="507.5" r="2.05" fill="rgba(160,72,80,0.66)" stroke="#501f28" stroke-width="1.4"/>
<circle cx="1050.4" cy="509.5" r="2.05" fill="rgba(160,72,80,0.66)" stroke="#501f28" stroke-width="1.4"/>
<circle cx="1056.0" cy="513.1" r="2.05" fill="rgba(160,72,80,0.66)" stroke="#501f28" stroke-width="1.4"/>
<circle cx="1058.6" cy="519.9" r="2.05" fill="rgba(160,72,80,0.66)" stroke="#501f28" stroke-width="1.4"/>
<circle cx="1076.7" cy="517.8" r="2.05" fill="rgba(160,72,80,0.66)" stroke="#501f28" stroke-width="1.4"/>
<circle cx="1073.6" cy="523.0" r="2.05" fill="rgba(160,72,80,0.66)" stroke="#501f28" stroke-width="1.4"/>
<circle cx="1063.8" cy="527.1" r="2.05" fill="rgba(160,72,80,0.66)" stroke="#501f28" stroke-width="1.4"/>
<circle cx="1088.7" cy="532.3" r="2.05" fill="rgba(160,72,80,0.66)" stroke="#501f28" stroke-width="1.4"/>
<circle cx="1085.5" cy="483.6" r="2.05" fill="rgba(160,72,80,0.66)" stroke="#501f28" stroke-width="1.4"/>
<circle cx="1096.4" cy="485.2" r="2.05" fill="rgba(160,72,80,0.66)" stroke="#501f28" stroke-width="1.4"/>
<circle cx="1098.0" cy="486.7" r="2.05" fill="rgba(160,72,80,0.66)" stroke="#501f28" stroke-width="1.4"/>
<circle cx="1098.5" cy="489.9" r="2.05" fill="rgba(160,72,80,0.66)" stroke="#501f28" stroke-width="1.4"/>
<circle cx="1108.8" cy="489.9" r="2.05" fill="rgba(160,72,80,0.66)" stroke="#501f28" stroke-width="1.4"/>
<circle cx="1111.9" cy="489.9" r="2.05" fill="rgba(160,72,80,0.66)" stroke="#501f28" stroke-width="1.4"/>
<circle cx="1110.9" cy="492.4" r="2.05" fill="rgba(160,72,80,0.66)" stroke="#501f28" stroke-width="1.4"/>
<circle cx="1111.4" cy="497.1" r="2.05" fill="rgba(160,72,80,0.66)" stroke="#501f28" stroke-width="1.4"/>
<circle cx="1117.6" cy="479.0" r="2.05" fill="rgba(160,72,80,0.66)" stroke="#501f28" stroke-width="1.4"/>
<circle cx="1120.2" cy="483.1" r="2.05" fill="rgba(160,72,80,0.66)" stroke="#501f28" stroke-width="1.4"/>
<circle cx="1119.7" cy="487.3" r="2.05" fill="rgba(160,72,80,0.66)" stroke="#501f28" stroke-width="1.4"/>
<circle cx="1125.9" cy="493.5" r="2.05" fill="rgba(160,72,80,0.66)" stroke="#501f28" stroke-width="1.4"/>
<circle cx="1131.1" cy="500.2" r="2.05" fill="rgba(160,72,80,0.66)" stroke="#501f28" stroke-width="1.4"/>
<circle cx="1133.7" cy="488.3" r="2.05" fill="rgba(160,72,80,0.66)" stroke="#501f28" stroke-width="1.4"/>
<circle cx="1098.5" cy="500.2" r="2.05" fill="rgba(160,72,80,0.66)" stroke="#501f28" stroke-width="1.4"/>
<circle cx="1089.2" cy="505.9" r="2.05" fill="rgba(160,72,80,0.66)" stroke="#501f28" stroke-width="1.4"/>
<circle cx="1103.1" cy="506.9" r="2.05" fill="rgba(160,72,80,0.66)" stroke="#501f28" stroke-width="1.4"/>
<circle cx="1109.9" cy="503.8" r="2.05" fill="rgba(160,72,80,0.66)" stroke="#501f28" stroke-width="1.4"/>
<circle cx="1116.6" cy="508.5" r="2.05" fill="rgba(160,72,80,0.66)" stroke="#501f28" stroke-width="1.4"/>
<circle cx="1100.6" cy="512.6" r="2.05" fill="rgba(160,72,80,0.66)" stroke="#501f28" stroke-width="1.4"/>
<circle cx="1093.8" cy="513.7" r="2.05" fill="rgba(160,72,80,0.66)" stroke="#501f28" stroke-width="1.4"/>
<circle cx="1110.4" cy="518.8" r="2.05" fill="rgba(160,72,80,0.66)" stroke="#501f28" stroke-width="1.4"/>
<circle cx="1107.8" cy="523.0" r="2.05" fill="rgba(160,72,80,0.66)" stroke="#501f28" stroke-width="1.4"/>
<circle cx="1119.7" cy="527.1" r="2.05" fill="rgba(160,72,80,0.66)" stroke="#501f28" stroke-width="1.4"/>
<circle cx="1077.3" cy="499.2" r="2.05" fill="rgba(160,72,80,0.66)" stroke="#501f28" stroke-width="1.4"/>
<circle cx="1078.3" cy="503.8" r="2.05" fill="rgba(160,72,80,0.66)" stroke="#501f28" stroke-width="1.4"/>
<circle cx="1078.8" cy="506.4" r="2.05" fill="rgba(160,72,80,0.66)" stroke="#501f28" stroke-width="1.4"/>
<circle cx="1086.1" cy="517.3" r="2.05" fill="rgba(160,72,80,0.66)" stroke="#501f28" stroke-width="1.4"/>
<circle cx="1128.0" cy="475.4" r="2.05" fill="rgba(160,72,80,0.66)" stroke="#501f28" stroke-width="1.4"/>
<circle cx="1130.1" cy="478.5" r="2.05" fill="rgba(160,72,80,0.66)" stroke="#501f28" stroke-width="1.4"/>
<circle cx="1137.3" cy="476.9" r="2.05" fill="rgba(160,72,80,0.66)" stroke="#501f28" stroke-width="1.4"/>
<circle cx="1138.3" cy="467.1" r="2.05" fill="rgba(160,72,80,0.66)" stroke="#501f28" stroke-width="1.4"/>
<circle cx="1150.2" cy="464.0" r="2.05" fill="rgba(160,72,80,0.66)" stroke="#501f28" stroke-width="1.4"/>
<circle cx="1147.7" cy="470.7" r="2.05" fill="rgba(160,72,80,0.66)" stroke="#501f28" stroke-width="1.4"/>
<circle cx="1140.9" cy="489.9" r="2.05" fill="rgba(160,72,80,0.66)" stroke="#501f28" stroke-width="1.4"/>
<circle cx="1146.6" cy="489.3" r="2.05" fill="rgba(160,72,80,0.66)" stroke="#501f28" stroke-width="1.4"/>
<circle cx="1139.9" cy="496.6" r="2.05" fill="rgba(160,72,80,0.66)" stroke="#501f28" stroke-width="1.4"/>
<circle cx="1145.1" cy="497.6" r="2.05" fill="rgba(160,72,80,0.66)" stroke="#501f28" stroke-width="1.4"/>
<circle cx="1148.2" cy="503.3" r="2.05" fill="rgba(160,72,80,0.66)" stroke="#501f28" stroke-width="1.4"/>
<circle cx="1143.5" cy="505.9" r="2.05" fill="rgba(160,72,80,0.66)" stroke="#501f28" stroke-width="1.4"/>
<circle cx="1137.8" cy="510.6" r="2.05" fill="rgba(160,72,80,0.66)" stroke="#501f28" stroke-width="1.4"/>
<circle cx="1137.8" cy="516.8" r="2.05" fill="rgba(160,72,80,0.66)" stroke="#501f28" stroke-width="1.4"/>
<circle cx="1154.4" cy="485.2" r="2.05" fill="rgba(160,72,80,0.66)" stroke="#501f28" stroke-width="1.4"/>
<circle cx="1162.2" cy="484.2" r="2.05" fill="rgba(160,72,80,0.66)" stroke="#501f28" stroke-width="1.4"/>
<circle cx="1165.8" cy="477.4" r="2.05" fill="rgba(160,72,80,0.66)" stroke="#501f28" stroke-width="1.4"/>
<circle cx="1168.9" cy="489.3" r="2.05" fill="rgba(160,72,80,0.66)" stroke="#501f28" stroke-width="1.4"/>
<circle cx="1157.0" cy="494.5" r="2.05" fill="rgba(160,72,80,0.66)" stroke="#501f28" stroke-width="1.4"/>
<circle cx="1157.5" cy="499.7" r="2.05" fill="rgba(160,72,80,0.66)" stroke="#501f28" stroke-width="1.4"/>
<circle cx="1169.9" cy="500.7" r="2.05" fill="rgba(160,72,80,0.66)" stroke="#501f28" stroke-width="1.4"/>
<circle cx="1173.0" cy="503.8" r="2.05" fill="rgba(160,72,80,0.66)" stroke="#501f28" stroke-width="1.4"/>
<circle cx="1174.6" cy="503.3" r="2.05" fill="rgba(160,72,80,0.66)" stroke="#501f28" stroke-width="1.4"/>
<circle cx="1158.0" cy="512.6" r="2.05" fill="rgba(160,72,80,0.66)" stroke="#501f28" stroke-width="1.4"/>
<circle cx="1160.1" cy="515.2" r="2.05" fill="rgba(160,72,80,0.66)" stroke="#501f28" stroke-width="1.4"/>
<circle cx="1171.5" cy="519.4" r="2.05" fill="rgba(160,72,80,0.66)" stroke="#501f28" stroke-width="1.4"/>
<circle cx="1152.3" cy="527.6" r="2.05" fill="rgba(160,72,80,0.66)" stroke="#501f28" stroke-width="1.4"/>
<circle cx="1154.9" cy="531.3" r="2.05" fill="rgba(160,72,80,0.66)" stroke="#501f28" stroke-width="1.4"/>
<circle cx="1145.6" cy="543.2" r="2.05" fill="rgba(160,72,80,0.66)" stroke="#501f28" stroke-width="1.4"/>
<circle cx="1189.1" cy="486.7" r="2.05" fill="rgba(160,72,80,0.66)" stroke="#501f28" stroke-width="1.4"/>
<circle cx="1196.3" cy="489.3" r="2.05" fill="rgba(160,72,80,0.66)" stroke="#501f28" stroke-width="1.4"/>
<circle cx="1193.2" cy="495.0" r="2.05" fill="rgba(160,72,80,0.66)" stroke="#501f28" stroke-width="1.4"/>
<circle cx="1188.6" cy="515.2" r="2.05" fill="rgba(160,72,80,0.66)" stroke="#501f28" stroke-width="1.4"/>
<circle cx="1183.4" cy="534.9" r="2.05" fill="rgba(160,72,80,0.66)" stroke="#501f28" stroke-width="1.4"/>
<circle cx="1429.5" cy="502.9" r="2.05" fill="rgba(160,72,80,0.66)" stroke="#501f28" stroke-width="1.4"/>
<circle cx="1423.4" cy="514.7" r="2.05" fill="rgba(160,72,80,0.66)" stroke="#501f28" stroke-width="1.4"/>
<circle cx="1442.6" cy="520.3" r="2.05" fill="rgba(160,72,80,0.66)" stroke="#501f28" stroke-width="1.4"/>
<circle cx="1448.0" cy="515.4" r="2.05" fill="rgba(160,72,80,0.66)" stroke="#501f28" stroke-width="1.4"/>
<circle cx="1454.1" cy="516.0" r="2.05" fill="rgba(160,72,80,0.66)" stroke="#501f28" stroke-width="1.4"/>
<circle cx="1452.3" cy="524.0" r="2.05" fill="rgba(160,72,80,0.66)" stroke="#501f28" stroke-width="1.4"/>
<circle cx="1421.9" cy="544.3" r="2.05" fill="rgba(160,72,80,0.66)" stroke="#501f28" stroke-width="1.4"/>
<circle cx="1428.6" cy="549.9" r="2.05" fill="rgba(160,72,80,0.66)" stroke="#501f28" stroke-width="1.4"/>
<circle cx="1456.0" cy="535.5" r="2.05" fill="rgba(160,72,80,0.66)" stroke="#501f28" stroke-width="1.4"/>
<circle cx="1452.8" cy="539.3" r="2.05" fill="rgba(160,72,80,0.66)" stroke="#501f28" stroke-width="1.4"/>
<circle cx="1453.7" cy="541.7" r="2.05" fill="rgba(160,72,80,0.66)" stroke="#501f28" stroke-width="1.4"/>
<circle cx="1458.2" cy="546.3" r="2.05" fill="rgba(160,72,80,0.66)" stroke="#501f28" stroke-width="1.4"/>
<circle cx="1455.4" cy="549.9" r="2.05" fill="rgba(160,72,80,0.66)" stroke="#501f28" stroke-width="1.4"/>
<circle cx="1435.1" cy="565.7" r="2.05" fill="rgba(160,72,80,0.66)" stroke="#501f28" stroke-width="1.4"/>
<circle cx="1460.1" cy="561.6" r="2.05" fill="rgba(160,72,80,0.66)" stroke="#501f28" stroke-width="1.4"/>
<circle cx="1429.5" cy="590.9" r="2.05" fill="rgba(160,72,80,0.66)" stroke="#501f28" stroke-width="1.4"/>
<circle cx="1429.5" cy="593.5" r="2.05" fill="rgba(160,72,80,0.66)" stroke="#501f28" stroke-width="1.4"/>
<circle cx="1456.0" cy="619.3" r="2.05" fill="rgba(160,72,80,0.66)" stroke="#501f28" stroke-width="1.4"/>
<circle cx="1450.8" cy="624.0" r="2.05" fill="rgba(160,72,80,0.66)" stroke="#501f28" stroke-width="1.4"/>
<circle cx="1483.9" cy="507.0" r="2.05" fill="rgba(160,72,80,0.66)" stroke="#501f28" stroke-width="1.4"/>
<circle cx="1491.7" cy="508.5" r="2.05" fill="rgba(160,72,80,0.66)" stroke="#501f28" stroke-width="1.4"/>
<circle cx="1486.7" cy="514.5" r="2.05" fill="rgba(160,72,80,0.66)" stroke="#501f28" stroke-width="1.4"/>
<circle cx="1488.0" cy="517.5" r="2.05" fill="rgba(160,72,80,0.66)" stroke="#501f28" stroke-width="1.4"/>
<circle cx="1481.1" cy="518.4" r="2.05" fill="rgba(160,72,80,0.66)" stroke="#501f28" stroke-width="1.4"/>
<circle cx="1475.9" cy="520.3" r="2.05" fill="rgba(160,72,80,0.66)" stroke="#501f28" stroke-width="1.4"/>
<circle cx="1463.8" cy="517.8" r="2.05" fill="rgba(160,72,80,0.66)" stroke="#501f28" stroke-width="1.4"/>
<circle cx="1465.7" cy="522.5" r="2.05" fill="rgba(160,72,80,0.66)" stroke="#501f28" stroke-width="1.4"/>
<circle cx="1469.0" cy="526.8" r="2.05" fill="rgba(160,72,80,0.66)" stroke="#501f28" stroke-width="1.4"/>
<circle cx="1494.2" cy="521.2" r="2.05" fill="rgba(160,72,80,0.66)" stroke="#501f28" stroke-width="1.4"/>
<circle cx="1489.9" cy="523.4" r="2.05" fill="rgba(160,72,80,0.66)" stroke="#501f28" stroke-width="1.4"/>
<circle cx="1474.2" cy="534.2" r="2.05" fill="rgba(160,72,80,0.66)" stroke="#501f28" stroke-width="1.4"/>
<circle cx="1487.6" cy="540.6" r="2.05" fill="rgba(160,72,80,0.66)" stroke="#501f28" stroke-width="1.4"/>
<circle cx="1486.7" cy="543.4" r="2.05" fill="rgba(160,72,80,0.66)" stroke="#501f28" stroke-width="1.4"/>
<circle cx="1470.5" cy="554.5" r="2.05" fill="rgba(160,72,80,0.66)" stroke="#501f28" stroke-width="1.4"/>
<circle cx="1470.9" cy="556.0" r="2.05" fill="rgba(160,72,80,0.66)" stroke="#501f28" stroke-width="1.4"/>
<circle cx="1488.0" cy="554.2" r="2.05" fill="rgba(160,72,80,0.66)" stroke="#501f28" stroke-width="1.4"/>
<circle cx="1494.7" cy="557.3" r="2.05" fill="rgba(160,72,80,0.66)" stroke="#501f28" stroke-width="1.4"/>
<circle cx="1476.1" cy="577.4" r="2.05" fill="rgba(160,72,80,0.66)" stroke="#501f28" stroke-width="1.4"/>
<circle cx="1482.1" cy="579.7" r="2.05" fill="rgba(160,72,80,0.66)" stroke="#501f28" stroke-width="1.4"/>
<circle cx="1480.2" cy="589.0" r="2.05" fill="rgba(160,72,80,0.66)" stroke="#501f28" stroke-width="1.4"/>
<circle cx="1510.9" cy="496.8" r="2.05" fill="rgba(160,72,80,0.66)" stroke="#501f28" stroke-width="1.4"/>
<circle cx="1535.7" cy="486.7" r="2.05" fill="rgba(160,72,80,0.66)" stroke="#501f28" stroke-width="1.4"/>
<circle cx="1530.5" cy="497.7" r="2.05" fill="rgba(160,72,80,0.66)" stroke="#501f28" stroke-width="1.4"/>
<circle cx="1531.4" cy="500.1" r="2.05" fill="rgba(160,72,80,0.66)" stroke="#501f28" stroke-width="1.4"/>
<circle cx="1544.8" cy="502.4" r="2.05" fill="rgba(160,72,80,0.66)" stroke="#501f28" stroke-width="1.4"/>
<circle cx="1532.9" cy="511.3" r="2.05" fill="rgba(160,72,80,0.66)" stroke="#501f28" stroke-width="1.4"/>
<circle cx="1555.1" cy="509.1" r="2.05" fill="rgba(160,72,80,0.66)" stroke="#501f28" stroke-width="1.4"/>
<circle cx="1555.6" cy="512.3" r="2.05" fill="rgba(160,72,80,0.66)" stroke="#501f28" stroke-width="1.4"/>
<circle cx="1545.4" cy="517.3" r="2.05" fill="rgba(160,72,80,0.66)" stroke="#501f28" stroke-width="1.4"/>
<circle cx="1550.4" cy="519.1" r="2.05" fill="rgba(160,72,80,0.66)" stroke="#501f28" stroke-width="1.4"/>
<circle cx="1549.1" cy="525.7" r="2.05" fill="rgba(160,72,80,0.66)" stroke="#501f28" stroke-width="1.4"/>
<circle cx="1551.9" cy="528.5" r="2.05" fill="rgba(160,72,80,0.66)" stroke="#501f28" stroke-width="1.4"/>
<circle cx="1553.8" cy="530.3" r="2.05" fill="rgba(160,72,80,0.66)" stroke="#501f28" stroke-width="1.4"/>
<circle cx="1510.0" cy="529.0" r="2.05" fill="rgba(160,72,80,0.66)" stroke="#501f28" stroke-width="1.4"/>
<circle cx="1508.1" cy="530.9" r="2.05" fill="rgba(160,72,80,0.66)" stroke="#501f28" stroke-width="1.4"/>
<circle cx="1515.6" cy="532.7" r="2.05" fill="rgba(160,72,80,0.66)" stroke="#501f28" stroke-width="1.4"/>
<circle cx="1527.3" cy="529.6" r="2.05" fill="rgba(160,72,80,0.66)" stroke="#501f28" stroke-width="1.4"/>
<circle cx="1528.1" cy="531.4" r="2.05" fill="rgba(160,72,80,0.66)" stroke="#501f28" stroke-width="1.4"/>
<circle cx="1524.0" cy="540.2" r="2.05" fill="rgba(160,72,80,0.66)" stroke="#501f28" stroke-width="1.4"/>
<circle cx="1528.6" cy="544.8" r="2.05" fill="rgba(160,72,80,0.66)" stroke="#501f28" stroke-width="1.4"/>
<circle cx="1520.2" cy="546.3" r="2.05" fill="rgba(160,72,80,0.66)" stroke="#501f28" stroke-width="1.4"/>
<circle cx="1516.5" cy="548.0" r="2.05" fill="rgba(160,72,80,0.66)" stroke="#501f28" stroke-width="1.4"/>
<circle cx="1536.1" cy="554.5" r="2.05" fill="rgba(160,72,80,0.66)" stroke="#501f28" stroke-width="1.4"/>
<circle cx="1539.8" cy="554.2" r="2.05" fill="rgba(160,72,80,0.66)" stroke="#501f28" stroke-width="1.4"/>
<circle cx="1543.1" cy="552.3" r="2.05" fill="rgba(160,72,80,0.66)" stroke="#501f28" stroke-width="1.4"/>
<circle cx="1517.1" cy="558.4" r="2.05" fill="rgba(160,72,80,0.66)" stroke="#501f28" stroke-width="1.4"/>
<circle cx="1519.9" cy="559.4" r="2.05" fill="rgba(160,72,80,0.66)" stroke="#501f28" stroke-width="1.4"/>
<circle cx="1541.3" cy="562.9" r="2.05" fill="rgba(160,72,80,0.66)" stroke="#501f28" stroke-width="1.4"/>
<circle cx="1508.5" cy="566.8" r="2.05" fill="rgba(160,72,80,0.66)" stroke="#501f28" stroke-width="1.4"/>
<circle cx="1510.5" cy="575.2" r="2.05" fill="rgba(160,72,80,0.66)" stroke="#501f28" stroke-width="1.4"/>
<circle cx="1530.5" cy="577.4" r="2.05" fill="rgba(160,72,80,0.66)" stroke="#501f28" stroke-width="1.4"/>
<circle cx="1532.9" cy="582.7" r="2.05" fill="rgba(160,72,80,0.66)" stroke="#501f28" stroke-width="1.4"/>
<circle cx="1548.2" cy="582.7" r="2.05" fill="rgba(160,72,80,0.66)" stroke="#501f28" stroke-width="1.4"/>
<circle cx="1515.6" cy="587.7" r="2.05" fill="rgba(160,72,80,0.66)" stroke="#501f28" stroke-width="1.4"/>
<circle cx="1504.0" cy="606.7" r="2.05" fill="rgba(160,72,80,0.66)" stroke="#501f28" stroke-width="1.4"/>
<circle cx="1505.9" cy="611.3" r="2.05" fill="rgba(160,72,80,0.66)" stroke="#501f28" stroke-width="1.4"/>
<circle cx="1529.5" cy="616.0" r="2.05" fill="rgba(160,72,80,0.66)" stroke="#501f28" stroke-width="1.4"/>
<circle cx="1524.3" cy="623.4" r="2.05" fill="rgba(160,72,80,0.66)" stroke="#501f28" stroke-width="1.4"/>
<circle cx="1557.5" cy="608.7" r="2.05" fill="rgba(160,72,80,0.66)" stroke="#501f28" stroke-width="1.4"/>
<circle cx="1487.3" cy="644.9" r="2.05" fill="rgba(160,72,80,0.66)" stroke="#501f28" stroke-width="1.4"/>
<circle cx="1566.2" cy="535.0" r="2.05" fill="rgba(160,72,80,0.66)" stroke="#501f28" stroke-width="1.4"/>
<circle cx="1568.1" cy="513.2" r="2.05" fill="rgba(160,72,80,0.66)" stroke="#501f28" stroke-width="1.4"/>
<circle cx="1562.7" cy="548.6" r="2.05" fill="rgba(160,72,80,0.66)" stroke="#501f28" stroke-width="1.4"/>
<circle cx="1569.2" cy="562.0" r="2.05" fill="rgba(160,72,80,0.66)" stroke="#501f28" stroke-width="1.4"/>
<circle cx="1568.3" cy="551.7" r="2.05" fill="rgba(160,72,80,0.66)" stroke="#501f28" stroke-width="1.4"/>
<circle cx="1557.3" cy="609.3" r="2.05" fill="rgba(160,72,80,0.66)" stroke="#501f28" stroke-width="1.4"/>
<circle cx="885.4" cy="383.3" r="2.05" fill="rgba(35,125,118,0.66)" stroke="#0f4039" stroke-width="1.4"/>
<circle cx="931.6" cy="390.1" r="2.05" fill="rgba(35,125,118,0.66)" stroke="#0f4039" stroke-width="1.4"/>
<circle cx="945.5" cy="389.5" r="2.05" fill="rgba(35,125,118,0.66)" stroke="#0f4039" stroke-width="1.4"/>
<circle cx="820.8" cy="393.6" r="2.05" fill="rgba(35,125,118,0.66)" stroke="#0f4039" stroke-width="1.4"/>
<circle cx="822.5" cy="395.8" r="2.05" fill="rgba(35,125,118,0.66)" stroke="#0f4039" stroke-width="1.4"/>
<circle cx="822.3" cy="399.4" r="2.05" fill="rgba(35,125,118,0.66)" stroke="#0f4039" stroke-width="1.4"/>
<circle cx="835.5" cy="394.9" r="2.05" fill="rgba(35,125,118,0.66)" stroke="#0f4039" stroke-width="1.4"/>
<circle cx="839.3" cy="395.1" r="2.05" fill="rgba(35,125,118,0.66)" stroke="#0f4039" stroke-width="1.4"/>
<circle cx="840.8" cy="399.4" r="2.05" fill="rgba(35,125,118,0.66)" stroke="#0f4039" stroke-width="1.4"/>
<circle cx="862.9" cy="395.1" r="2.05" fill="rgba(35,125,118,0.66)" stroke="#0f4039" stroke-width="1.4"/>
<circle cx="893.1" cy="390.7" r="2.05" fill="rgba(35,125,118,0.66)" stroke="#0f4039" stroke-width="1.4"/>
<circle cx="901.3" cy="391.7" r="2.05" fill="rgba(35,125,118,0.66)" stroke="#0f4039" stroke-width="1.4"/>
<circle cx="875.3" cy="397.9" r="2.05" fill="rgba(35,125,118,0.66)" stroke="#0f4039" stroke-width="1.4"/>
<circle cx="871.5" cy="400.8" r="2.05" fill="rgba(35,125,118,0.66)" stroke="#0f4039" stroke-width="1.4"/>
<circle cx="872.5" cy="402.8" r="2.05" fill="rgba(35,125,118,0.66)" stroke="#0f4039" stroke-width="1.4"/>
<circle cx="910.4" cy="396.0" r="2.05" fill="rgba(35,125,118,0.66)" stroke="#0f4039" stroke-width="1.4"/>
<circle cx="908.0" cy="397.9" r="2.05" fill="rgba(35,125,118,0.66)" stroke="#0f4039" stroke-width="1.4"/>
<circle cx="906.6" cy="400.3" r="2.05" fill="rgba(35,125,118,0.66)" stroke="#0f4039" stroke-width="1.4"/>
<circle cx="909.0" cy="402.8" r="2.05" fill="rgba(35,125,118,0.66)" stroke="#0f4039" stroke-width="1.4"/>
<circle cx="910.9" cy="404.7" r="2.05" fill="rgba(35,125,118,0.66)" stroke="#0f4039" stroke-width="1.4"/>
<circle cx="916.2" cy="404.2" r="2.05" fill="rgba(35,125,118,0.66)" stroke="#0f4039" stroke-width="1.4"/>
<circle cx="918.1" cy="396.5" r="2.05" fill="rgba(35,125,118,0.66)" stroke="#0f4039" stroke-width="1.4"/>
<circle cx="919.1" cy="398.4" r="2.05" fill="rgba(35,125,118,0.66)" stroke="#0f4039" stroke-width="1.4"/>
<circle cx="925.8" cy="396.5" r="2.05" fill="rgba(35,125,118,0.66)" stroke="#0f4039" stroke-width="1.4"/>
<circle cx="930.1" cy="397.9" r="2.05" fill="rgba(35,125,118,0.66)" stroke="#0f4039" stroke-width="1.4"/>
<circle cx="940.2" cy="397.0" r="2.05" fill="rgba(35,125,118,0.66)" stroke="#0f4039" stroke-width="1.4"/>
<circle cx="941.7" cy="399.9" r="2.05" fill="rgba(35,125,118,0.66)" stroke="#0f4039" stroke-width="1.4"/>
<circle cx="941.2" cy="402.8" r="2.05" fill="rgba(35,125,118,0.66)" stroke="#0f4039" stroke-width="1.4"/>
<circle cx="945.5" cy="400.8" r="2.05" fill="rgba(35,125,118,0.66)" stroke="#0f4039" stroke-width="1.4"/>
<circle cx="946.5" cy="404.7" r="2.05" fill="rgba(35,125,118,0.66)" stroke="#0f4039" stroke-width="1.4"/>
<circle cx="949.3" cy="395.1" r="2.05" fill="rgba(35,125,118,0.66)" stroke="#0f4039" stroke-width="1.4"/>
<circle cx="953.2" cy="399.4" r="2.05" fill="rgba(35,125,118,0.66)" stroke="#0f4039" stroke-width="1.4"/>
<circle cx="957.0" cy="402.8" r="2.05" fill="rgba(35,125,118,0.66)" stroke="#0f4039" stroke-width="1.4"/>
<circle cx="959.9" cy="405.2" r="2.05" fill="rgba(35,125,118,0.66)" stroke="#0f4039" stroke-width="1.4"/>
<circle cx="951.3" cy="408.5" r="2.05" fill="rgba(35,125,118,0.66)" stroke="#0f4039" stroke-width="1.4"/>
<circle cx="954.1" cy="409.0" r="2.05" fill="rgba(35,125,118,0.66)" stroke="#0f4039" stroke-width="1.4"/>
<circle cx="961.8" cy="408.0" r="2.05" fill="rgba(35,125,118,0.66)" stroke="#0f4039" stroke-width="1.4"/>
<circle cx="829.2" cy="404.2" r="2.05" fill="rgba(35,125,118,0.66)" stroke="#0f4039" stroke-width="1.4"/>
<circle cx="833.1" cy="404.7" r="2.05" fill="rgba(35,125,118,0.66)" stroke="#0f4039" stroke-width="1.4"/>
<circle cx="831.6" cy="408.0" r="2.05" fill="rgba(35,125,118,0.66)" stroke="#0f4039" stroke-width="1.4"/>
<circle cx="833.1" cy="410.0" r="2.05" fill="rgba(35,125,118,0.66)" stroke="#0f4039" stroke-width="1.4"/>
<circle cx="823.0" cy="407.6" r="2.05" fill="rgba(35,125,118,0.66)" stroke="#0f4039" stroke-width="1.4"/>
<circle cx="819.6" cy="415.7" r="2.05" fill="rgba(35,125,118,0.66)" stroke="#0f4039" stroke-width="1.4"/>
<circle cx="839.8" cy="405.2" r="2.05" fill="rgba(35,125,118,0.66)" stroke="#0f4039" stroke-width="1.4"/>
<circle cx="848.4" cy="402.8" r="2.05" fill="rgba(35,125,118,0.66)" stroke="#0f4039" stroke-width="1.4"/>
<circle cx="849.4" cy="405.6" r="2.05" fill="rgba(35,125,118,0.66)" stroke="#0f4039" stroke-width="1.4"/>
<circle cx="850.4" cy="409.0" r="2.05" fill="rgba(35,125,118,0.66)" stroke="#0f4039" stroke-width="1.4"/>
<circle cx="848.9" cy="412.8" r="2.05" fill="rgba(35,125,118,0.66)" stroke="#0f4039" stroke-width="1.4"/>
<circle cx="851.3" cy="413.3" r="2.05" fill="rgba(35,125,118,0.66)" stroke="#0f4039" stroke-width="1.4"/>
<circle cx="856.6" cy="415.7" r="2.05" fill="rgba(35,125,118,0.66)" stroke="#0f4039" stroke-width="1.4"/>
<circle cx="859.5" cy="406.6" r="2.05" fill="rgba(35,125,118,0.66)" stroke="#0f4039" stroke-width="1.4"/>
<circle cx="862.4" cy="409.0" r="2.05" fill="rgba(35,125,118,0.66)" stroke="#0f4039" stroke-width="1.4"/>
<circle cx="865.7" cy="409.0" r="2.05" fill="rgba(35,125,118,0.66)" stroke="#0f4039" stroke-width="1.4"/>
<circle cx="863.8" cy="412.4" r="2.05" fill="rgba(35,125,118,0.66)" stroke="#0f4039" stroke-width="1.4"/>
<circle cx="872.9" cy="413.8" r="2.05" fill="rgba(35,125,118,0.66)" stroke="#0f4039" stroke-width="1.4"/>
<circle cx="881.6" cy="411.4" r="2.05" fill="rgba(35,125,118,0.66)" stroke="#0f4039" stroke-width="1.4"/>
<circle cx="886.4" cy="402.8" r="2.05" fill="rgba(35,125,118,0.66)" stroke="#0f4039" stroke-width="1.4"/>
<circle cx="887.4" cy="405.6" r="2.05" fill="rgba(35,125,118,0.66)" stroke="#0f4039" stroke-width="1.4"/>
<circle cx="888.8" cy="408.0" r="2.05" fill="rgba(35,125,118,0.66)" stroke="#0f4039" stroke-width="1.4"/>
<circle cx="896.0" cy="404.2" r="2.05" fill="rgba(35,125,118,0.66)" stroke="#0f4039" stroke-width="1.4"/>
<circle cx="899.9" cy="410.0" r="2.05" fill="rgba(35,125,118,0.66)" stroke="#0f4039" stroke-width="1.4"/>
<circle cx="912.3" cy="409.0" r="2.05" fill="rgba(35,125,118,0.66)" stroke="#0f4039" stroke-width="1.4"/>
<circle cx="924.4" cy="407.6" r="2.05" fill="rgba(35,125,118,0.66)" stroke="#0f4039" stroke-width="1.4"/>
<circle cx="932.5" cy="407.6" r="2.05" fill="rgba(35,125,118,0.66)" stroke="#0f4039" stroke-width="1.4"/>
<circle cx="890.7" cy="414.3" r="2.05" fill="rgba(35,125,118,0.66)" stroke="#0f4039" stroke-width="1.4"/>
<circle cx="895.5" cy="414.3" r="2.05" fill="rgba(35,125,118,0.66)" stroke="#0f4039" stroke-width="1.4"/>
<circle cx="898.4" cy="415.2" r="2.05" fill="rgba(35,125,118,0.66)" stroke="#0f4039" stroke-width="1.4"/>
<circle cx="901.3" cy="417.2" r="2.05" fill="rgba(35,125,118,0.66)" stroke="#0f4039" stroke-width="1.4"/>
<circle cx="900.8" cy="419.6" r="2.05" fill="rgba(35,125,118,0.66)" stroke="#0f4039" stroke-width="1.4"/>
<circle cx="907.1" cy="416.2" r="2.05" fill="rgba(35,125,118,0.66)" stroke="#0f4039" stroke-width="1.4"/>
<circle cx="884.5" cy="419.6" r="2.05" fill="rgba(35,125,118,0.66)" stroke="#0f4039" stroke-width="1.4"/>
<circle cx="913.8" cy="423.4" r="2.05" fill="rgba(35,125,118,0.66)" stroke="#0f4039" stroke-width="1.4"/>
<circle cx="928.2" cy="415.2" r="2.05" fill="rgba(35,125,118,0.66)" stroke="#0f4039" stroke-width="1.4"/>
<circle cx="934.9" cy="414.3" r="2.05" fill="rgba(35,125,118,0.66)" stroke="#0f4039" stroke-width="1.4"/>
<circle cx="936.8" cy="415.7" r="2.05" fill="rgba(35,125,118,0.66)" stroke="#0f4039" stroke-width="1.4"/>
<circle cx="831.3" cy="421.0" r="2.05" fill="rgba(35,125,118,0.66)" stroke="#0f4039" stroke-width="1.4"/>
<circle cx="837.9" cy="430.8" r="2.05" fill="rgba(35,125,118,0.66)" stroke="#0f4039" stroke-width="1.4"/>
<circle cx="853.1" cy="427.0" r="2.05" fill="rgba(35,125,118,0.66)" stroke="#0f4039" stroke-width="1.4"/>
<circle cx="864.6" cy="422.9" r="2.05" fill="rgba(35,125,118,0.66)" stroke="#0f4039" stroke-width="1.4"/>
<circle cx="868.6" cy="427.5" r="2.05" fill="rgba(35,125,118,0.66)" stroke="#0f4039" stroke-width="1.4"/>
<circle cx="864.8" cy="431.4" r="2.05" fill="rgba(35,125,118,0.66)" stroke="#0f4039" stroke-width="1.4"/>
<circle cx="951.5" cy="428.4" r="2.05" fill="rgba(35,125,118,0.66)" stroke="#0f4039" stroke-width="1.4"/>
<circle cx="814.6" cy="455.1" r="2.05" fill="rgba(35,125,118,0.66)" stroke="#0f4039" stroke-width="1.4"/>
<circle cx="1200.3" cy="467.3" r="2.05" fill="rgba(35,125,118,0.66)" stroke="#0f4039" stroke-width="1.4"/>
<circle cx="1212.3" cy="479.3" r="2.05" fill="rgba(35,125,118,0.66)" stroke="#0f4039" stroke-width="1.4"/>
<circle cx="1200.3" cy="483.3" r="2.05" fill="rgba(35,125,118,0.66)" stroke="#0f4039" stroke-width="1.4"/>
<circle cx="1202.8" cy="490.5" r="2.05" fill="rgba(35,125,118,0.66)" stroke="#0f4039" stroke-width="1.4"/>
<circle cx="1188.3" cy="496.5" r="2.05" fill="rgba(35,125,118,0.66)" stroke="#0f4039" stroke-width="1.4"/>
<circle cx="1189.0" cy="501.8" r="2.05" fill="rgba(35,125,118,0.66)" stroke="#0f4039" stroke-width="1.4"/>
<circle cx="1201.0" cy="504.8" r="2.05" fill="rgba(35,125,118,0.66)" stroke="#0f4039" stroke-width="1.4"/>
<circle cx="1192.3" cy="508.5" r="2.05" fill="rgba(35,125,118,0.66)" stroke="#0f4039" stroke-width="1.4"/>
<circle cx="1195.0" cy="510.0" r="2.05" fill="rgba(35,125,118,0.66)" stroke="#0f4039" stroke-width="1.4"/>
<circle cx="1197.3" cy="515.3" r="2.05" fill="rgba(35,125,118,0.66)" stroke="#0f4039" stroke-width="1.4"/>
<circle cx="1189.0" cy="527.3" r="2.05" fill="rgba(35,125,118,0.66)" stroke="#0f4039" stroke-width="1.4"/>
<circle cx="1192.8" cy="527.3" r="2.05" fill="rgba(35,125,118,0.66)" stroke="#0f4039" stroke-width="1.4"/>
<circle cx="1205.5" cy="524.3" r="2.05" fill="rgba(35,125,118,0.66)" stroke="#0f4039" stroke-width="1.4"/>
<circle cx="1203.7" cy="531.5" r="2.05" fill="rgba(35,125,118,0.66)" stroke="#0f4039" stroke-width="1.4"/>
<circle cx="1196.8" cy="535.1" r="2.05" fill="rgba(35,125,118,0.66)" stroke="#0f4039" stroke-width="1.4"/>
<circle cx="1192.8" cy="540.5" r="2.05" fill="rgba(35,125,118,0.66)" stroke="#0f4039" stroke-width="1.4"/>
<circle cx="1189.3" cy="549.8" r="2.05" fill="rgba(35,125,118,0.66)" stroke="#0f4039" stroke-width="1.4"/>
<circle cx="1219.0" cy="499.2" r="2.05" fill="rgba(35,125,118,0.66)" stroke="#0f4039" stroke-width="1.4"/>
<circle cx="1216.5" cy="504.8" r="2.05" fill="rgba(35,125,118,0.66)" stroke="#0f4039" stroke-width="1.4"/>
<circle cx="1211.8" cy="509.3" r="2.05" fill="rgba(35,125,118,0.66)" stroke="#0f4039" stroke-width="1.4"/>
<circle cx="1216.8" cy="510.8" r="2.05" fill="rgba(35,125,118,0.66)" stroke="#0f4039" stroke-width="1.4"/>
<circle cx="1216.5" cy="516.0" r="2.05" fill="rgba(35,125,118,0.66)" stroke="#0f4039" stroke-width="1.4"/>
<circle cx="1219.0" cy="522.8" r="2.05" fill="rgba(35,125,118,0.66)" stroke="#0f4039" stroke-width="1.4"/>
<circle cx="1228.0" cy="493.5" r="2.05" fill="rgba(35,125,118,0.66)" stroke="#0f4039" stroke-width="1.4"/>
<circle cx="1232.5" cy="495.0" r="2.05" fill="rgba(35,125,118,0.66)" stroke="#0f4039" stroke-width="1.4"/>
<circle cx="1229.5" cy="495.8" r="2.05" fill="rgba(35,125,118,0.66)" stroke="#0f4039" stroke-width="1.4"/>
<circle cx="1237.0" cy="507.5" r="2.05" fill="rgba(35,125,118,0.66)" stroke="#0f4039" stroke-width="1.4"/>
<circle cx="1238.5" cy="519.0" r="2.05" fill="rgba(35,125,118,0.66)" stroke="#0f4039" stroke-width="1.4"/>
<circle cx="1242.3" cy="520.5" r="2.05" fill="rgba(35,125,118,0.66)" stroke="#0f4039" stroke-width="1.4"/>
<circle cx="1231.3" cy="527.3" r="2.05" fill="rgba(35,125,118,0.66)" stroke="#0f4039" stroke-width="1.4"/>
<circle cx="1234.0" cy="535.1" r="2.05" fill="rgba(35,125,118,0.66)" stroke="#0f4039" stroke-width="1.4"/>
<circle cx="1233.0" cy="564.8" r="2.05" fill="rgba(35,125,118,0.66)" stroke="#0f4039" stroke-width="1.4"/>
<circle cx="1247.8" cy="494.6" r="2.05" fill="rgba(35,125,118,0.66)" stroke="#0f4039" stroke-width="1.4"/>
<circle cx="1254.3" cy="489.8" r="2.05" fill="rgba(35,125,118,0.66)" stroke="#0f4039" stroke-width="1.4"/>
<circle cx="1258.8" cy="481.8" r="2.05" fill="rgba(35,125,118,0.66)" stroke="#0f4039" stroke-width="1.4"/>
<circle cx="1249.0" cy="523.5" r="2.05" fill="rgba(35,125,118,0.66)" stroke="#0f4039" stroke-width="1.4"/>
<circle cx="1246.8" cy="528.8" r="2.05" fill="rgba(35,125,118,0.66)" stroke="#0f4039" stroke-width="1.4"/>
<circle cx="1258.0" cy="543.8" r="2.05" fill="rgba(35,125,118,0.66)" stroke="#0f4039" stroke-width="1.4"/>
<circle cx="1257.0" cy="549.8" r="2.05" fill="rgba(35,125,118,0.66)" stroke="#0f4039" stroke-width="1.4"/>
<circle cx="1277.5" cy="480.8" r="2.05" fill="rgba(35,125,118,0.66)" stroke="#0f4039" stroke-width="1.4"/>
<circle cx="1278.7" cy="483.8" r="2.05" fill="rgba(35,125,118,0.66)" stroke="#0f4039" stroke-width="1.4"/>
<circle cx="1270.0" cy="490.5" r="2.05" fill="rgba(35,125,118,0.66)" stroke="#0f4039" stroke-width="1.4"/>
<circle cx="1270.0" cy="498.8" r="2.05" fill="rgba(35,125,118,0.66)" stroke="#0f4039" stroke-width="1.4"/>
<circle cx="1265.5" cy="501.0" r="2.05" fill="rgba(35,125,118,0.66)" stroke="#0f4039" stroke-width="1.4"/>
<circle cx="1279.0" cy="498.3" r="2.05" fill="rgba(35,125,118,0.66)" stroke="#0f4039" stroke-width="1.4"/>
<circle cx="1276.0" cy="502.5" r="2.05" fill="rgba(35,125,118,0.66)" stroke="#0f4039" stroke-width="1.4"/>
<circle cx="1276.0" cy="506.3" r="2.05" fill="rgba(35,125,118,0.66)" stroke="#0f4039" stroke-width="1.4"/>
<circle cx="1257.7" cy="502.8" r="2.05" fill="rgba(35,125,118,0.66)" stroke="#0f4039" stroke-width="1.4"/>
<circle cx="1267.5" cy="509.3" r="2.05" fill="rgba(35,125,118,0.66)" stroke="#0f4039" stroke-width="1.4"/>
<circle cx="1273.3" cy="510.0" r="2.05" fill="rgba(35,125,118,0.66)" stroke="#0f4039" stroke-width="1.4"/>
<circle cx="1265.1" cy="515.3" r="2.05" fill="rgba(35,125,118,0.66)" stroke="#0f4039" stroke-width="1.4"/>
<circle cx="1288.8" cy="505.5" r="2.05" fill="rgba(35,125,118,0.66)" stroke="#0f4039" stroke-width="1.4"/>
<circle cx="1295.2" cy="509.0" r="2.05" fill="rgba(35,125,118,0.66)" stroke="#0f4039" stroke-width="1.4"/>
<circle cx="1297.8" cy="514.5" r="2.05" fill="rgba(35,125,118,0.66)" stroke="#0f4039" stroke-width="1.4"/>
<circle cx="1284.6" cy="517.1" r="2.05" fill="rgba(35,125,118,0.66)" stroke="#0f4039" stroke-width="1.4"/>
<circle cx="1256.8" cy="522.3" r="2.05" fill="rgba(35,125,118,0.66)" stroke="#0f4039" stroke-width="1.4"/>
<circle cx="1268.5" cy="523.5" r="2.05" fill="rgba(35,125,118,0.66)" stroke="#0f4039" stroke-width="1.4"/>
<circle cx="1272.3" cy="520.2" r="2.05" fill="rgba(35,125,118,0.66)" stroke="#0f4039" stroke-width="1.4"/>
<circle cx="1274.5" cy="523.2" r="2.05" fill="rgba(35,125,118,0.66)" stroke="#0f4039" stroke-width="1.4"/>
<circle cx="1259.5" cy="529.5" r="2.05" fill="rgba(35,125,118,0.66)" stroke="#0f4039" stroke-width="1.4"/>
<circle cx="1289.1" cy="535.1" r="2.05" fill="rgba(35,125,118,0.66)" stroke="#0f4039" stroke-width="1.4"/>
<circle cx="1297.0" cy="535.1" r="2.05" fill="rgba(35,125,118,0.66)" stroke="#0f4039" stroke-width="1.4"/>
<circle cx="1273.0" cy="541.1" r="2.05" fill="rgba(35,125,118,0.66)" stroke="#0f4039" stroke-width="1.4"/>
<circle cx="1276.0" cy="548.7" r="2.05" fill="rgba(35,125,118,0.66)" stroke="#0f4039" stroke-width="1.4"/>
<circle cx="1291.3" cy="458.3" r="2.05" fill="rgba(35,125,118,0.66)" stroke="#0f4039" stroke-width="1.4"/>
<circle cx="1286.1" cy="470.0" r="2.05" fill="rgba(35,125,118,0.66)" stroke="#0f4039" stroke-width="1.4"/>
<circle cx="1294.3" cy="485.3" r="2.05" fill="rgba(35,125,118,0.66)" stroke="#0f4039" stroke-width="1.4"/>
<circle cx="1307.2" cy="469.2" r="2.05" fill="rgba(35,125,118,0.66)" stroke="#0f4039" stroke-width="1.4"/>
<circle cx="1312.5" cy="473.6" r="2.05" fill="rgba(35,125,118,0.66)" stroke="#0f4039" stroke-width="1.4"/>
<circle cx="1333.3" cy="474.3" r="2.05" fill="rgba(35,125,118,0.66)" stroke="#0f4039" stroke-width="1.4"/>
<circle cx="1336.8" cy="494.0" r="2.05" fill="rgba(35,125,118,0.66)" stroke="#0f4039" stroke-width="1.4"/>
<circle cx="1332.3" cy="501.8" r="2.05" fill="rgba(35,125,118,0.66)" stroke="#0f4039" stroke-width="1.4"/>
<circle cx="1301.8" cy="502.2" r="2.05" fill="rgba(35,125,118,0.66)" stroke="#0f4039" stroke-width="1.4"/>
<circle cx="1306.8" cy="504.3" r="2.05" fill="rgba(35,125,118,0.66)" stroke="#0f4039" stroke-width="1.4"/>
<circle cx="1322.2" cy="509.3" r="2.05" fill="rgba(35,125,118,0.66)" stroke="#0f4039" stroke-width="1.4"/>
<circle cx="1331.2" cy="511.1" r="2.05" fill="rgba(35,125,118,0.66)" stroke="#0f4039" stroke-width="1.4"/>
<circle cx="1329.3" cy="518.3" r="2.05" fill="rgba(35,125,118,0.66)" stroke="#0f4039" stroke-width="1.4"/>
<circle cx="1312.0" cy="521.3" r="2.05" fill="rgba(35,125,118,0.66)" stroke="#0f4039" stroke-width="1.4"/>
<circle cx="1314.3" cy="524.0" r="2.05" fill="rgba(35,125,118,0.66)" stroke="#0f4039" stroke-width="1.4"/>
<circle cx="1332.0" cy="527.3" r="2.05" fill="rgba(35,125,118,0.66)" stroke="#0f4039" stroke-width="1.4"/>
<circle cx="1322.5" cy="530.3" r="2.05" fill="rgba(35,125,118,0.66)" stroke="#0f4039" stroke-width="1.4"/>
<circle cx="1305.3" cy="531.0" r="2.05" fill="rgba(35,125,118,0.66)" stroke="#0f4039" stroke-width="1.4"/>
<circle cx="1308.7" cy="531.8" r="2.05" fill="rgba(35,125,118,0.66)" stroke="#0f4039" stroke-width="1.4"/>
<circle cx="1332.3" cy="537.8" r="2.05" fill="rgba(35,125,118,0.66)" stroke="#0f4039" stroke-width="1.4"/>
<circle cx="1310.2" cy="537.8" r="2.05" fill="rgba(35,125,118,0.66)" stroke="#0f4039" stroke-width="1.4"/>
<circle cx="1313.5" cy="541.5" r="2.05" fill="rgba(35,125,118,0.66)" stroke="#0f4039" stroke-width="1.4"/>
<circle cx="1317.7" cy="539.3" r="2.05" fill="rgba(35,125,118,0.66)" stroke="#0f4039" stroke-width="1.4"/>
<circle cx="1313.5" cy="543.8" r="2.05" fill="rgba(35,125,118,0.66)" stroke="#0f4039" stroke-width="1.4"/>
<circle cx="1313.5" cy="553.1" r="2.05" fill="rgba(35,125,118,0.66)" stroke="#0f4039" stroke-width="1.4"/>
<circle cx="1320.3" cy="585.5" r="2.05" fill="rgba(35,125,118,0.66)" stroke="#0f4039" stroke-width="1.4"/>
<circle cx="1326.6" cy="582.8" r="2.05" fill="rgba(35,125,118,0.66)" stroke="#0f4039" stroke-width="1.4"/>
<circle cx="1620.2" cy="474.7" r="2.05" fill="rgba(35,125,118,0.66)" stroke="#0f4039" stroke-width="1.4"/>
<circle cx="1610.1" cy="486.7" r="2.05" fill="rgba(35,125,118,0.66)" stroke="#0f4039" stroke-width="1.4"/>
<circle cx="1657.9" cy="482.7" r="2.05" fill="rgba(35,125,118,0.66)" stroke="#0f4039" stroke-width="1.4"/>
<circle cx="1708.3" cy="489.9" r="2.05" fill="rgba(35,125,118,0.66)" stroke="#0f4039" stroke-width="1.4"/>
<circle cx="1668.8" cy="495.9" r="2.05" fill="rgba(35,125,118,0.66)" stroke="#0f4039" stroke-width="1.4"/>
<circle cx="1660.1" cy="499.1" r="2.05" fill="rgba(35,125,118,0.66)" stroke="#0f4039" stroke-width="1.4"/>
<circle cx="1694.1" cy="506.7" r="2.05" fill="rgba(35,125,118,0.66)" stroke="#0f4039" stroke-width="1.4"/>
<circle cx="1571.4" cy="508.0" r="2.05" fill="rgba(35,125,118,0.66)" stroke="#0f4039" stroke-width="1.4"/>
<circle cx="1606.9" cy="507.7" r="2.05" fill="rgba(35,125,118,0.66)" stroke="#0f4039" stroke-width="1.4"/>
<circle cx="1623.8" cy="507.7" r="2.05" fill="rgba(35,125,118,0.66)" stroke="#0f4039" stroke-width="1.4"/>
<circle cx="1594.4" cy="510.6" r="2.05" fill="rgba(35,125,118,0.66)" stroke="#0f4039" stroke-width="1.4"/>
<circle cx="1595.6" cy="512.1" r="2.05" fill="rgba(35,125,118,0.66)" stroke="#0f4039" stroke-width="1.4"/>
<circle cx="1604.3" cy="516.2" r="2.05" fill="rgba(35,125,118,0.66)" stroke="#0f4039" stroke-width="1.4"/>
<circle cx="1572.4" cy="519.8" r="2.05" fill="rgba(35,125,118,0.66)" stroke="#0f4039" stroke-width="1.4"/>
<circle cx="1647.5" cy="511.1" r="2.05" fill="rgba(35,125,118,0.66)" stroke="#0f4039" stroke-width="1.4"/>
<circle cx="1672.4" cy="511.4" r="2.05" fill="rgba(35,125,118,0.66)" stroke="#0f4039" stroke-width="1.4"/>
<circle cx="1668.0" cy="515.4" r="2.05" fill="rgba(35,125,118,0.66)" stroke="#0f4039" stroke-width="1.4"/>
<circle cx="1682.5" cy="517.2" r="2.05" fill="rgba(35,125,118,0.66)" stroke="#0f4039" stroke-width="1.4"/>
<circle cx="1654.3" cy="519.8" r="2.05" fill="rgba(35,125,118,0.66)" stroke="#0f4039" stroke-width="1.4"/>
<circle cx="1660.8" cy="519.3" r="2.05" fill="rgba(35,125,118,0.66)" stroke="#0f4039" stroke-width="1.4"/>
<circle cx="1647.7" cy="523.0" r="2.05" fill="rgba(35,125,118,0.66)" stroke="#0f4039" stroke-width="1.4"/>
<circle cx="1669.5" cy="523.0" r="2.05" fill="rgba(35,125,118,0.66)" stroke="#0f4039" stroke-width="1.4"/>
<circle cx="1620.5" cy="523.7" r="2.05" fill="rgba(35,125,118,0.66)" stroke="#0f4039" stroke-width="1.4"/>
<circle cx="1628.2" cy="524.1" r="2.05" fill="rgba(35,125,118,0.66)" stroke="#0f4039" stroke-width="1.4"/>
<circle cx="1593.0" cy="524.4" r="2.05" fill="rgba(35,125,118,0.66)" stroke="#0f4039" stroke-width="1.4"/>
<circle cx="1685.4" cy="525.6" r="2.05" fill="rgba(35,125,118,0.66)" stroke="#0f4039" stroke-width="1.4"/>
<circle cx="1567.0" cy="528.3" r="2.05" fill="rgba(35,125,118,0.66)" stroke="#0f4039" stroke-width="1.4"/>
<circle cx="1636.6" cy="528.5" r="2.05" fill="rgba(35,125,118,0.66)" stroke="#0f4039" stroke-width="1.4"/>
<circle cx="1661.5" cy="528.3" r="2.05" fill="rgba(35,125,118,0.66)" stroke="#0f4039" stroke-width="1.4"/>
<circle cx="1695.6" cy="529.0" r="2.05" fill="rgba(35,125,118,0.66)" stroke="#0f4039" stroke-width="1.4"/>
<circle cx="1705.4" cy="530.2" r="2.05" fill="rgba(35,125,118,0.66)" stroke="#0f4039" stroke-width="1.4"/>
<circle cx="1604.7" cy="529.8" r="2.05" fill="rgba(35,125,118,0.66)" stroke="#0f4039" stroke-width="1.4"/>
<circle cx="1593.4" cy="530.6" r="2.05" fill="rgba(35,125,118,0.66)" stroke="#0f4039" stroke-width="1.4"/>
<circle cx="1649.9" cy="531.2" r="2.05" fill="rgba(35,125,118,0.66)" stroke="#0f4039" stroke-width="1.4"/>
<circle cx="1649.2" cy="536.7" r="2.05" fill="rgba(35,125,118,0.66)" stroke="#0f4039" stroke-width="1.4"/>
<circle cx="1673.1" cy="533.8" r="2.05" fill="rgba(35,125,118,0.66)" stroke="#0f4039" stroke-width="1.4"/>
<circle cx="1593.0" cy="537.5" r="2.05" fill="rgba(35,125,118,0.66)" stroke="#0f4039" stroke-width="1.4"/>
<circle cx="1598.9" cy="537.2" r="2.05" fill="rgba(35,125,118,0.66)" stroke="#0f4039" stroke-width="1.4"/>
<circle cx="1635.4" cy="539.6" r="2.05" fill="rgba(35,125,118,0.66)" stroke="#0f4039" stroke-width="1.4"/>
<circle cx="1669.9" cy="539.3" r="2.05" fill="rgba(35,125,118,0.66)" stroke="#0f4039" stroke-width="1.4"/>
<circle cx="1674.1" cy="540.4" r="2.05" fill="rgba(35,125,118,0.66)" stroke="#0f4039" stroke-width="1.4"/>
<circle cx="1680.1" cy="538.2" r="2.05" fill="rgba(35,125,118,0.66)" stroke="#0f4039" stroke-width="1.4"/>
<circle cx="1625.6" cy="541.5" r="2.05" fill="rgba(35,125,118,0.66)" stroke="#0f4039" stroke-width="1.4"/>
<circle cx="1578.2" cy="541.4" r="2.05" fill="rgba(35,125,118,0.66)" stroke="#0f4039" stroke-width="1.4"/>
<circle cx="1561.1" cy="542.8" r="2.05" fill="rgba(35,125,118,0.66)" stroke="#0f4039" stroke-width="1.4"/>
<circle cx="1568.0" cy="543.7" r="2.05" fill="rgba(35,125,118,0.66)" stroke="#0f4039" stroke-width="1.4"/>
<circle cx="1649.2" cy="545.1" r="2.05" fill="rgba(35,125,118,0.66)" stroke="#0f4039" stroke-width="1.4"/>
<circle cx="1587.2" cy="547.2" r="2.05" fill="rgba(35,125,118,0.66)" stroke="#0f4039" stroke-width="1.4"/>
<circle cx="1618.8" cy="548.3" r="2.05" fill="rgba(35,125,118,0.66)" stroke="#0f4039" stroke-width="1.4"/>
<circle cx="1708.3" cy="547.6" r="2.05" fill="rgba(35,125,118,0.66)" stroke="#0f4039" stroke-width="1.4"/>
<circle cx="1576.7" cy="549.5" r="2.05" fill="rgba(35,125,118,0.66)" stroke="#0f4039" stroke-width="1.4"/>
<circle cx="1573.8" cy="551.7" r="2.05" fill="rgba(35,125,118,0.66)" stroke="#0f4039" stroke-width="1.4"/>
<circle cx="1590.9" cy="553.4" r="2.05" fill="rgba(35,125,118,0.66)" stroke="#0f4039" stroke-width="1.4"/>
<circle cx="1672.8" cy="551.5" r="2.05" fill="rgba(35,125,118,0.66)" stroke="#0f4039" stroke-width="1.4"/>
<circle cx="1579.6" cy="557.0" r="2.05" fill="rgba(35,125,118,0.66)" stroke="#0f4039" stroke-width="1.4"/>
<circle cx="1578.6" cy="560.9" r="2.05" fill="rgba(35,125,118,0.66)" stroke="#0f4039" stroke-width="1.4"/>
<circle cx="1637.3" cy="557.7" r="2.05" fill="rgba(35,125,118,0.66)" stroke="#0f4039" stroke-width="1.4"/>
<circle cx="1636.9" cy="564.7" r="2.05" fill="rgba(35,125,118,0.66)" stroke="#0f4039" stroke-width="1.4"/>
<circle cx="1643.4" cy="566.9" r="2.05" fill="rgba(35,125,118,0.66)" stroke="#0f4039" stroke-width="1.4"/>
<circle cx="1677.2" cy="561.1" r="2.05" fill="rgba(35,125,118,0.66)" stroke="#0f4039" stroke-width="1.4"/>
<circle cx="1695.6" cy="559.2" r="2.05" fill="rgba(35,125,118,0.66)" stroke="#0f4039" stroke-width="1.4"/>
<circle cx="1709.0" cy="559.2" r="2.05" fill="rgba(35,125,118,0.66)" stroke="#0f4039" stroke-width="1.4"/>
<circle cx="1590.9" cy="565.0" r="2.05" fill="rgba(35,125,118,0.66)" stroke="#0f4039" stroke-width="1.4"/>
<circle cx="1623.8" cy="577.6" r="2.05" fill="rgba(35,125,118,0.66)" stroke="#0f4039" stroke-width="1.4"/>
<circle cx="1626.0" cy="581.6" r="2.05" fill="rgba(35,125,118,0.66)" stroke="#0f4039" stroke-width="1.4"/>
<circle cx="1702.1" cy="573.7" r="2.05" fill="rgba(35,125,118,0.66)" stroke="#0f4039" stroke-width="1.4"/>
<circle cx="1707.9" cy="578.0" r="2.05" fill="rgba(35,125,118,0.66)" stroke="#0f4039" stroke-width="1.4"/>
<circle cx="1708.3" cy="580.9" r="2.05" fill="rgba(35,125,118,0.66)" stroke="#0f4039" stroke-width="1.4"/>
<circle cx="1682.1" cy="579.8" r="2.05" fill="rgba(35,125,118,0.66)" stroke="#0f4039" stroke-width="1.4"/>
<circle cx="1674.5" cy="584.5" r="2.05" fill="rgba(35,125,118,0.66)" stroke="#0f4039" stroke-width="1.4"/>
<circle cx="1664.0" cy="587.9" r="2.05" fill="rgba(35,125,118,0.66)" stroke="#0f4039" stroke-width="1.4"/>
<circle cx="1612.7" cy="591.1" r="2.05" fill="rgba(35,125,118,0.66)" stroke="#0f4039" stroke-width="1.4"/>
<circle cx="1578.2" cy="595.9" r="2.05" fill="rgba(35,125,118,0.66)" stroke="#0f4039" stroke-width="1.4"/>
<circle cx="1590.9" cy="595.9" r="2.05" fill="rgba(35,125,118,0.66)" stroke="#0f4039" stroke-width="1.4"/>
<circle cx="1654.3" cy="596.1" r="2.05" fill="rgba(35,125,118,0.66)" stroke="#0f4039" stroke-width="1.4"/>
<circle cx="1681.8" cy="600.5" r="2.05" fill="rgba(35,125,118,0.66)" stroke="#0f4039" stroke-width="1.4"/>
<circle cx="1569.3" cy="607.7" r="2.05" fill="rgba(35,125,118,0.66)" stroke="#0f4039" stroke-width="1.4"/>
<circle cx="1595.7" cy="620.9" r="2.05" fill="rgba(35,125,118,0.66)" stroke="#0f4039" stroke-width="1.4"/>
<circle cx="1604.4" cy="617.5" r="2.05" fill="rgba(35,125,118,0.66)" stroke="#0f4039" stroke-width="1.4"/>
<circle cx="1605.5" cy="620.2" r="2.05" fill="rgba(35,125,118,0.66)" stroke="#0f4039" stroke-width="1.4"/>
<circle cx="1630.0" cy="619.9" r="2.05" fill="rgba(35,125,118,0.66)" stroke="#0f4039" stroke-width="1.4"/>
<circle cx="1637.6" cy="618.6" r="2.05" fill="rgba(35,125,118,0.66)" stroke="#0f4039" stroke-width="1.4"/>
<circle cx="1642.3" cy="629.6" r="2.05" fill="rgba(35,125,118,0.66)" stroke="#0f4039" stroke-width="1.4"/>
<circle cx="1578.6" cy="632.6" r="2.05" fill="rgba(35,125,118,0.66)" stroke="#0f4039" stroke-width="1.4"/>
<circle cx="1573.3" cy="636.5" r="2.05" fill="rgba(35,125,118,0.66)" stroke="#0f4039" stroke-width="1.4"/>
<circle cx="1604.7" cy="636.9" r="2.05" fill="rgba(35,125,118,0.66)" stroke="#0f4039" stroke-width="1.4"/>
<circle cx="1678.2" cy="628.1" r="2.05" fill="rgba(35,125,118,0.66)" stroke="#0f4039" stroke-width="1.4"/>
<circle cx="1700.5" cy="626.5" r="2.05" fill="rgba(35,125,118,0.66)" stroke="#0f4039" stroke-width="1.4"/>
<circle cx="1708.8" cy="627.6" r="2.05" fill="rgba(35,125,118,0.66)" stroke="#0f4039" stroke-width="1.4"/>
<circle cx="1664.8" cy="639.0" r="2.05" fill="rgba(35,125,118,0.66)" stroke="#0f4039" stroke-width="1.4"/>
<circle cx="1659.5" cy="660.2" r="2.05" fill="rgba(35,125,118,0.66)" stroke="#0f4039" stroke-width="1.4"/>
<circle cx="1563.5" cy="698.3" r="2.05" fill="rgba(35,125,118,0.66)" stroke="#0f4039" stroke-width="1.4"/>
<circle cx="1662.5" cy="736.3" r="2.05" fill="rgba(35,125,118,0.66)" stroke="#0f4039" stroke-width="1.4"/>
<rect x="594.9" y="364" width="1194.5" height="389.6" fill="none" stroke="#a0a0a0" stroke-width="1.9"/>
<line x1="590.6999999999999" x2="594.9" y1="416.5" y2="416.5" stroke="#666" stroke-width="1.3"/>
<text x="587.6" y="421.6" text-anchor="end" font-size="13.4" fill="#4d4d4d" stroke="#4d4d4d" stroke-width="0.25">2.5</text>
<line x1="590.6999999999999" x2="594.9" y1="525.5" y2="525.5" stroke="#666" stroke-width="1.3"/>
<text x="587.6" y="530.6" text-anchor="end" font-size="13.4" fill="#4d4d4d" stroke="#4d4d4d" stroke-width="0.25">2.0</text>
<line x1="590.6999999999999" x2="594.9" y1="634.3" y2="634.3" stroke="#666" stroke-width="1.3"/>
<text x="587.6" y="639.4" text-anchor="end" font-size="13.4" fill="#4d4d4d" stroke="#4d4d4d" stroke-width="0.25">1.5</text>
<line x1="590.6999999999999" x2="594.9" y1="742.8" y2="742.8" stroke="#666" stroke-width="1.3"/>
<text x="587.6" y="747.9" text-anchor="end" font-size="13.4" fill="#4d4d4d" stroke="#4d4d4d" stroke-width="0.25">1.0</text>
<line x1="819" x2="819" y1="753.6" y2="758.1" stroke="#555" stroke-width="1.3"/>
<text transform="translate(824.7,767.9) rotate(-45)" text-anchor="end" font-size="14" fill="#4d4d4d" stroke="#4d4d4d" stroke-width="0.2">ATRX</text>
<line x1="1192.3" x2="1192.3" y1="753.6" y2="758.1" stroke="#555" stroke-width="1.3"/>
<text transform="translate(1198.0,767.9) rotate(-45)" text-anchor="end" font-size="14" fill="#4d4d4d" stroke="#4d4d4d" stroke-width="0.2">CAMK1</text>
<line x1="1566" x2="1566" y1="753.6" y2="758.1" stroke="#555" stroke-width="1.3"/>
<text transform="translate(1571.7,767.9) rotate(-45)" text-anchor="end" font-size="14" fill="#4d4d4d" stroke="#4d4d4d" stroke-width="0.2">ZNF709</text>
<text transform="translate(561.2,558.8) rotate(-90)" text-anchor="middle" font-size="22.8" font-weight="bold" fill="#111" textLength="72.3" lengthAdjust="spacingAndGlyphs">counts</text>
<text x="1159.5" y="825.8" font-size="22.6" font-weight="bold" fill="#111" textLength="64.3" lengthAdjust="spacingAndGlyphs">genes</text>
<text x="630" y="298.9" font-size="25.33" fill="#111" stroke="#111" stroke-width="0.3">gene expression between Esophageal Squamous Cell Carcinoma and Esophageal Adenocarcinoma</text>
<text x="717.2" y="338.9" font-size="24.6" fill="#111" stroke="#111" stroke-width="0.3" textLength="76.4" lengthAdjust="spacingAndGlyphs">groups</text>
<rect x="808.3" y="319.4" width="22.8" height="21.6" fill="#f7a6a3" stroke="#6a4e4e" stroke-width="1.3"/><circle cx="819.7" cy="330.2" r="2" fill="#8a3038"/>
<text x="845.4" y="338.9" font-size="24.6" fill="#111" stroke="#111" stroke-width="0.3" textLength="328.3" lengthAdjust="spacingAndGlyphs">Esophageal Adenocarcinoma</text>
<rect x="1188.6" y="319.4" width="22.8" height="21.6" fill="#7fd3d8" stroke="#3c5c5c" stroke-width="1.3"/><circle cx="1200" cy="330.2" r="2" fill="#1f6a62"/>
<text x="1225" y="338.9" font-size="24.6" fill="#111" stroke="#111" stroke-width="0.3" textLength="440.2" lengthAdjust="spacingAndGlyphs">Esophageal Squamous Cell Carcinoma</text>
<path d="M1343.5,556.5 L1343.5,575.5 L1347.8,571.6 L1351,578.8 L1354,577.5 L1350.9,570.4 L1357,570.2 Z" fill="#111" stroke="#fff" stroke-width="1.2" stroke-linejoin="round"/>
</svg>
</div></div>
</body></html>
